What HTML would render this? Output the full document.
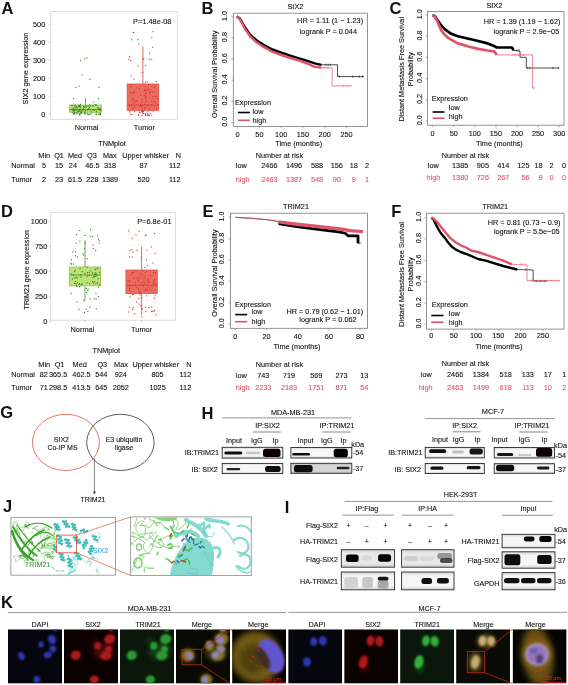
<!DOCTYPE html>
<html><head><meta charset="utf-8"><title>Figure</title>
<style>
html,body{margin:0;padding:0;background:#fff;}
body{width:568px;height:685px;overflow:hidden;}
svg{display:block;font-family:"Liberation Sans",Arial,Helvetica,sans-serif;}
</style></head><body>
<svg width="568" height="685" viewBox="0 0 568 685">
<defs>
<filter id="bl" x="-20%" y="-50%" width="140%" height="200%"><feGaussianBlur stdDeviation="0.5"/></filter>
<filter id="b1" x="-50%" y="-50%" width="200%" height="200%"><feGaussianBlur stdDeviation="0.8"/></filter>
<filter id="b2" x="-50%" y="-50%" width="200%" height="200%"><feGaussianBlur stdDeviation="2.5"/></filter>
<filter id="b3" x="-50%" y="-50%" width="200%" height="200%"><feGaussianBlur stdDeviation="3"/></filter>
<linearGradient id="gb" x1="0" y1="0" x2="0" y2="1"><stop offset="0" stop-color="#d4d4d4"/><stop offset="0.22" stop-color="#f6f6f6"/><stop offset="0.78" stop-color="#f6f6f6"/><stop offset="1" stop-color="#d2d2d2"/></linearGradient>
<linearGradient id="gg" x1="0" y1="0" x2="0" y2="1"><stop offset="0" stop-color="#b8b8b8"/><stop offset="0.25" stop-color="#d6d6d6"/><stop offset="0.75" stop-color="#d6d6d6"/><stop offset="1" stop-color="#b4b4b4"/></linearGradient>
<linearGradient id="gl" x1="0" y1="0" x2="0" y2="1"><stop offset="0" stop-color="#cfcfcf"/><stop offset="0.2" stop-color="#e8e8e8"/><stop offset="0.8" stop-color="#e8e8e8"/><stop offset="1" stop-color="#cccccc"/></linearGradient>
<clipPath id="cj1"><rect x="11" y="518" width="104" height="57"/></clipPath>
<clipPath id="cj2"><rect x="131" y="517.4" width="119.8" height="57.6"/></clipPath>
</defs>
<rect x="0" y="0" width="568" height="685" fill="#fff"/>
<text x="1.5" y="13.8" font-size="16.5" text-anchor="start" fill="#111" font-weight="bold">A</text>
<rect x="50.6" y="11.6" width="126.7" height="107.8" fill="#fff" stroke="#d6d6d6" stroke-width="0.8"/>
<line x1="49.1" y1="114.3" x2="50.6" y2="114.3" stroke="#999" stroke-width="0.6"/>
<text x="45.3" y="116.6" font-size="7.4" text-anchor="end" fill="#111" stroke="#111" stroke-width="0.1">0</text>
<line x1="49.1" y1="96.3" x2="50.6" y2="96.3" stroke="#999" stroke-width="0.6"/>
<text x="45.3" y="98.6" font-size="7.4" text-anchor="end" fill="#111" stroke="#111" stroke-width="0.1">100</text>
<line x1="49.1" y1="78.3" x2="50.6" y2="78.3" stroke="#999" stroke-width="0.6"/>
<text x="45.3" y="80.6" font-size="7.4" text-anchor="end" fill="#111" stroke="#111" stroke-width="0.1">200</text>
<line x1="49.1" y1="60.3" x2="50.6" y2="60.3" stroke="#999" stroke-width="0.6"/>
<text x="45.3" y="62.6" font-size="7.4" text-anchor="end" fill="#111" stroke="#111" stroke-width="0.1">300</text>
<line x1="49.1" y1="42.3" x2="50.6" y2="42.3" stroke="#999" stroke-width="0.6"/>
<text x="45.3" y="44.6" font-size="7.4" text-anchor="end" fill="#111" stroke="#111" stroke-width="0.1">400</text>
<line x1="49.1" y1="24.3" x2="50.6" y2="24.3" stroke="#999" stroke-width="0.6"/>
<text x="45.3" y="26.6" font-size="7.4" text-anchor="end" fill="#111" stroke="#111" stroke-width="0.1">500</text>
<text x="25.8" y="68.5" font-size="7.35" text-anchor="middle" fill="#111" stroke="#111" stroke-width="0.1" transform="rotate(-90 25.8 68.5)" dy="2.6">SIX2 gene expression</text>
<text x="171.5" y="23.9" font-size="7.4" text-anchor="end" fill="#111" stroke="#111" stroke-width="0.1">P=1.48e-08</text>
<line x1="85.5" y1="119.4" x2="85.5" y2="120.9" stroke="#999" stroke-width="0.6"/>
<line x1="85.5" y1="98.0" x2="85.5" y2="114.0" stroke="#4f9a35" stroke-width="0.8"/>
<rect x="69.6" y="105.0" width="31.9" height="7.2" fill="#bfe276" stroke="#7cc043" stroke-width="0.7"/>
<line x1="69.6" y1="109.5" x2="101.5" y2="109.5" stroke="#4f9a35" stroke-width="0.9"/>
<rect x="78.6" y="85.4" width="1.1" height="1.1" fill="#2f7d1f"/>
<rect x="98.8" y="108.8" width="1.1" height="1.1" fill="#2f7d1f"/>
<rect x="81.6" y="74.4" width="1.1" height="1.1" fill="#2f7d1f"/>
<rect x="99.8" y="114.3" width="1.1" height="1.1" fill="#2f7d1f"/>
<rect x="72.2" y="111.8" width="1.1" height="1.1" fill="#2f7d1f"/>
<rect x="87.1" y="109.5" width="1.1" height="1.1" fill="#2f7d1f"/>
<rect x="98.1" y="107.5" width="1.1" height="1.1" fill="#2f7d1f"/>
<rect x="75.7" y="112.5" width="1.1" height="1.1" fill="#2f7d1f"/>
<rect x="78.2" y="105.7" width="1.1" height="1.1" fill="#2f7d1f"/>
<rect x="71.1" y="108.8" width="1.1" height="1.1" fill="#2f7d1f"/>
<rect x="79.4" y="109.2" width="1.1" height="1.1" fill="#2f7d1f"/>
<rect x="79.9" y="103.8" width="1.1" height="1.1" fill="#2f7d1f"/>
<rect x="85.2" y="110.3" width="1.1" height="1.1" fill="#2f7d1f"/>
<rect x="83.9" y="111.7" width="1.1" height="1.1" fill="#2f7d1f"/>
<rect x="93.6" y="109.9" width="1.1" height="1.1" fill="#2f7d1f"/>
<rect x="85.4" y="106.5" width="1.1" height="1.1" fill="#2f7d1f"/>
<rect x="89.9" y="105.3" width="1.1" height="1.1" fill="#2f7d1f"/>
<rect x="78.5" y="105.0" width="1.1" height="1.1" fill="#2f7d1f"/>
<rect x="99.4" y="113.9" width="1.1" height="1.1" fill="#2f7d1f"/>
<rect x="95.7" y="114.1" width="1.1" height="1.1" fill="#2f7d1f"/>
<rect x="82.9" y="108.1" width="1.1" height="1.1" fill="#2f7d1f"/>
<rect x="89.6" y="113.8" width="1.1" height="1.1" fill="#2f7d1f"/>
<rect x="72.7" y="107.9" width="1.1" height="1.1" fill="#2f7d1f"/>
<rect x="78.2" y="110.7" width="1.1" height="1.1" fill="#2f7d1f"/>
<rect x="86.3" y="57.5" width="1.1" height="1.1" fill="#2f7d1f"/>
<rect x="84.2" y="58.4" width="1.1" height="1.1" fill="#2f7d1f"/>
<rect x="87.2" y="113.8" width="1.1" height="1.1" fill="#2f7d1f"/>
<rect x="83.2" y="109.1" width="1.1" height="1.1" fill="#2f7d1f"/>
<rect x="79.2" y="105.1" width="1.1" height="1.1" fill="#2f7d1f"/>
<rect x="99.2" y="112.3" width="1.1" height="1.1" fill="#2f7d1f"/>
<rect x="76.7" y="107.3" width="1.1" height="1.1" fill="#2f7d1f"/>
<rect x="79.3" y="109.3" width="1.1" height="1.1" fill="#2f7d1f"/>
<rect x="75.4" y="110.1" width="1.1" height="1.1" fill="#2f7d1f"/>
<rect x="76.1" y="112.4" width="1.1" height="1.1" fill="#2f7d1f"/>
<rect x="99.5" y="108.4" width="1.1" height="1.1" fill="#2f7d1f"/>
<rect x="95.8" y="113.9" width="1.1" height="1.1" fill="#2f7d1f"/>
<rect x="91.3" y="112.5" width="1.1" height="1.1" fill="#2f7d1f"/>
<rect x="95.6" y="112.3" width="1.1" height="1.1" fill="#2f7d1f"/>
<rect x="88.3" y="114.1" width="1.1" height="1.1" fill="#2f7d1f"/>
<rect x="99.6" y="110.1" width="1.1" height="1.1" fill="#2f7d1f"/>
<rect x="80.1" y="111.4" width="1.1" height="1.1" fill="#2f7d1f"/>
<rect x="77.4" y="111.0" width="1.1" height="1.1" fill="#2f7d1f"/>
<rect x="89.2" y="78.8" width="1.1" height="1.1" fill="#2f7d1f"/>
<rect x="99.9" y="109.2" width="1.1" height="1.1" fill="#2f7d1f"/>
<rect x="71.4" y="105.0" width="1.1" height="1.1" fill="#2f7d1f"/>
<rect x="80.1" y="106.4" width="1.1" height="1.1" fill="#2f7d1f"/>
<rect x="89.6" y="113.4" width="1.1" height="1.1" fill="#2f7d1f"/>
<rect x="79.3" y="114.4" width="1.1" height="1.1" fill="#2f7d1f"/>
<rect x="80.1" y="60.2" width="1.1" height="1.1" fill="#2f7d1f"/>
<rect x="98.4" y="86.7" width="1.1" height="1.1" fill="#2f7d1f"/>
<rect x="83.5" y="106.2" width="1.1" height="1.1" fill="#2f7d1f"/>
<rect x="92.7" y="109.0" width="1.1" height="1.1" fill="#2f7d1f"/>
<rect x="79.2" y="113.3" width="1.1" height="1.1" fill="#2f7d1f"/>
<rect x="92.6" y="105.5" width="1.1" height="1.1" fill="#2f7d1f"/>
<rect x="73.0" y="98.1" width="1.1" height="1.1" fill="#2f7d1f"/>
<rect x="75.3" y="107.0" width="1.1" height="1.1" fill="#2f7d1f"/>
<rect x="74.3" y="106.3" width="1.1" height="1.1" fill="#2f7d1f"/>
<rect x="93.9" y="109.5" width="1.1" height="1.1" fill="#2f7d1f"/>
<rect x="73.6" y="110.3" width="1.1" height="1.1" fill="#2f7d1f"/>
<rect x="82.4" y="110.1" width="1.1" height="1.1" fill="#2f7d1f"/>
<rect x="77.3" y="112.7" width="1.1" height="1.1" fill="#2f7d1f"/>
<rect x="92.3" y="105.3" width="1.1" height="1.1" fill="#2f7d1f"/>
<rect x="90.3" y="110.6" width="1.1" height="1.1" fill="#2f7d1f"/>
<rect x="73.8" y="112.8" width="1.1" height="1.1" fill="#2f7d1f"/>
<rect x="97.7" y="109.1" width="1.1" height="1.1" fill="#2f7d1f"/>
<rect x="97.8" y="113.6" width="1.1" height="1.1" fill="#2f7d1f"/>
<rect x="99.5" y="108.7" width="1.1" height="1.1" fill="#2f7d1f"/>
<rect x="72.5" y="105.3" width="1.1" height="1.1" fill="#2f7d1f"/>
<rect x="84.3" y="112.5" width="1.1" height="1.1" fill="#2f7d1f"/>
<rect x="95.4" y="104.5" width="1.1" height="1.1" fill="#2f7d1f"/>
<rect x="89.0" y="104.5" width="1.1" height="1.1" fill="#2f7d1f"/>
<rect x="79.2" y="113.4" width="1.1" height="1.1" fill="#2f7d1f"/>
<rect x="96.9" y="107.2" width="1.1" height="1.1" fill="#2f7d1f"/>
<rect x="73.6" y="113.2" width="1.1" height="1.1" fill="#2f7d1f"/>
<rect x="75.6" y="86.9" width="1.1" height="1.1" fill="#2f7d1f"/>
<rect x="81.1" y="110.6" width="1.1" height="1.1" fill="#2f7d1f"/>
<rect x="79.2" y="105.8" width="1.1" height="1.1" fill="#2f7d1f"/>
<rect x="85.3" y="105.4" width="1.1" height="1.1" fill="#2f7d1f"/>
<rect x="72.9" y="113.3" width="1.1" height="1.1" fill="#2f7d1f"/>
<rect x="74.3" y="113.6" width="1.1" height="1.1" fill="#2f7d1f"/>
<rect x="78.5" y="105.4" width="1.1" height="1.1" fill="#2f7d1f"/>
<rect x="79.1" y="110.4" width="1.1" height="1.1" fill="#2f7d1f"/>
<rect x="79.5" y="107.4" width="1.1" height="1.1" fill="#2f7d1f"/>
<rect x="81.0" y="112.8" width="1.1" height="1.1" fill="#2f7d1f"/>
<rect x="77.5" y="109.6" width="1.1" height="1.1" fill="#2f7d1f"/>
<rect x="84.1" y="106.4" width="1.1" height="1.1" fill="#2f7d1f"/>
<rect x="93.2" y="101.7" width="1.1" height="1.1" fill="#2f7d1f"/>
<rect x="74.6" y="104.4" width="1.1" height="1.1" fill="#2f7d1f"/>
<rect x="72.8" y="108.6" width="1.1" height="1.1" fill="#2f7d1f"/>
<rect x="79.2" y="105.8" width="1.1" height="1.1" fill="#2f7d1f"/>
<rect x="73.2" y="110.2" width="1.1" height="1.1" fill="#2f7d1f"/>
<rect x="84.4" y="113.5" width="1.1" height="1.1" fill="#2f7d1f"/>
<rect x="88.3" y="108.5" width="1.1" height="1.1" fill="#2f7d1f"/>
<rect x="87.5" y="105.8" width="1.1" height="1.1" fill="#2f7d1f"/>
<rect x="74.1" y="111.8" width="1.1" height="1.1" fill="#2f7d1f"/>
<rect x="94.7" y="104.3" width="1.1" height="1.1" fill="#2f7d1f"/>
<rect x="98.0" y="98.0" width="1.1" height="1.1" fill="#2f7d1f"/>
<rect x="80.3" y="112.1" width="1.1" height="1.1" fill="#2f7d1f"/>
<rect x="72.2" y="109.6" width="1.1" height="1.1" fill="#2f7d1f"/>
<rect x="80.6" y="112.8" width="1.1" height="1.1" fill="#2f7d1f"/>
<rect x="75.6" y="106.0" width="1.1" height="1.1" fill="#2f7d1f"/>
<rect x="89.0" y="106.9" width="1.1" height="1.1" fill="#2f7d1f"/>
<rect x="76.8" y="107.1" width="1.1" height="1.1" fill="#2f7d1f"/>
<rect x="74.2" y="108.6" width="1.1" height="1.1" fill="#2f7d1f"/>
<rect x="87.1" y="112.8" width="1.1" height="1.1" fill="#2f7d1f"/>
<rect x="83.0" y="106.0" width="1.1" height="1.1" fill="#2f7d1f"/>
<rect x="95.7" y="104.4" width="1.1" height="1.1" fill="#2f7d1f"/>
<rect x="95.9" y="110.8" width="1.1" height="1.1" fill="#2f7d1f"/>
<rect x="99.9" y="113.1" width="1.1" height="1.1" fill="#2f7d1f"/>
<rect x="87.8" y="108.5" width="1.1" height="1.1" fill="#2f7d1f"/>
<line x1="142.9" y1="119.4" x2="142.9" y2="120.9" stroke="#999" stroke-width="0.6"/>
<line x1="142.9" y1="46.2" x2="142.9" y2="114.0" stroke="#d8463c" stroke-width="0.8"/>
<rect x="127.1" y="84.0" width="31.7" height="26.4" fill="#ea6b60" stroke="#dd4b40" stroke-width="0.7"/>
<line x1="127.1" y1="105.0" x2="158.8" y2="105.0" stroke="#d8463c" stroke-width="0.9"/>
<rect x="133.7" y="102.4" width="1.1" height="1.1" fill="#e02b22"/>
<rect x="134.2" y="111.1" width="1.1" height="1.1" fill="#e02b22"/>
<rect x="132.4" y="93.0" width="1.1" height="1.1" fill="#e02b22"/>
<rect x="149.1" y="114.8" width="1.1" height="1.1" fill="#e02b22"/>
<rect x="148.5" y="107.9" width="1.1" height="1.1" fill="#e02b22"/>
<rect x="144.0" y="89.9" width="1.1" height="1.1" fill="#e02b22"/>
<rect x="153.8" y="100.9" width="1.1" height="1.1" fill="#e02b22"/>
<rect x="138.9" y="87.9" width="1.1" height="1.1" fill="#e02b22"/>
<rect x="135.6" y="87.5" width="1.1" height="1.1" fill="#e02b22"/>
<rect x="157.0" y="97.9" width="1.1" height="1.1" fill="#e02b22"/>
<rect x="149.0" y="52.6" width="1.1" height="1.1" fill="#e02b22"/>
<rect x="152.4" y="31.1" width="1.1" height="1.1" fill="#e02b22"/>
<rect x="151.1" y="58.7" width="1.1" height="1.1" fill="#e02b22"/>
<rect x="128.3" y="58.8" width="1.1" height="1.1" fill="#e02b22"/>
<rect x="135.1" y="100.7" width="1.1" height="1.1" fill="#e02b22"/>
<rect x="145.2" y="97.7" width="1.1" height="1.1" fill="#e02b22"/>
<rect x="134.0" y="106.5" width="1.1" height="1.1" fill="#e02b22"/>
<rect x="129.2" y="111.6" width="1.1" height="1.1" fill="#e02b22"/>
<rect x="132.8" y="107.8" width="1.1" height="1.1" fill="#e02b22"/>
<rect x="138.3" y="43.3" width="1.1" height="1.1" fill="#e02b22"/>
<rect x="150.2" y="91.1" width="1.1" height="1.1" fill="#e02b22"/>
<rect x="145.9" y="90.1" width="1.1" height="1.1" fill="#e02b22"/>
<rect x="151.2" y="37.2" width="1.1" height="1.1" fill="#e02b22"/>
<rect x="141.8" y="111.3" width="1.1" height="1.1" fill="#e02b22"/>
<rect x="139.4" y="106.1" width="1.1" height="1.1" fill="#e02b22"/>
<rect x="149.0" y="92.1" width="1.1" height="1.1" fill="#e02b22"/>
<rect x="149.8" y="112.8" width="1.1" height="1.1" fill="#e02b22"/>
<rect x="152.8" y="95.9" width="1.1" height="1.1" fill="#e02b22"/>
<rect x="141.1" y="105.6" width="1.1" height="1.1" fill="#e02b22"/>
<rect x="132.9" y="91.7" width="1.1" height="1.1" fill="#e02b22"/>
<rect x="143.7" y="95.0" width="1.1" height="1.1" fill="#e02b22"/>
<rect x="144.9" y="64.8" width="1.1" height="1.1" fill="#e02b22"/>
<rect x="148.0" y="83.9" width="1.1" height="1.1" fill="#e02b22"/>
<rect x="144.2" y="108.8" width="1.1" height="1.1" fill="#e02b22"/>
<rect x="144.8" y="93.2" width="1.1" height="1.1" fill="#e02b22"/>
<rect x="142.8" y="111.1" width="1.1" height="1.1" fill="#e02b22"/>
<rect x="139.5" y="111.9" width="1.1" height="1.1" fill="#e02b22"/>
<rect x="145.5" y="101.0" width="1.1" height="1.1" fill="#e02b22"/>
<rect x="132.7" y="31.9" width="1.1" height="1.1" fill="#e02b22"/>
<rect x="152.4" y="91.2" width="1.1" height="1.1" fill="#e02b22"/>
<rect x="147.6" y="114.8" width="1.1" height="1.1" fill="#e02b22"/>
<rect x="130.2" y="92.5" width="1.1" height="1.1" fill="#e02b22"/>
<rect x="142.5" y="111.1" width="1.1" height="1.1" fill="#e02b22"/>
<rect x="144.5" y="89.1" width="1.1" height="1.1" fill="#e02b22"/>
<rect x="144.9" y="81.7" width="1.1" height="1.1" fill="#e02b22"/>
<rect x="131.3" y="114.1" width="1.1" height="1.1" fill="#e02b22"/>
<rect x="141.4" y="101.3" width="1.1" height="1.1" fill="#e02b22"/>
<rect x="133.2" y="31.9" width="1.1" height="1.1" fill="#e02b22"/>
<rect x="141.5" y="110.6" width="1.1" height="1.1" fill="#e02b22"/>
<rect x="145.1" y="114.9" width="1.1" height="1.1" fill="#e02b22"/>
<rect x="138.0" y="114.4" width="1.1" height="1.1" fill="#e02b22"/>
<rect x="132.2" y="97.9" width="1.1" height="1.1" fill="#e02b22"/>
<rect x="151.3" y="100.6" width="1.1" height="1.1" fill="#e02b22"/>
<rect x="134.1" y="91.3" width="1.1" height="1.1" fill="#e02b22"/>
<rect x="155.8" y="81.0" width="1.1" height="1.1" fill="#e02b22"/>
<rect x="141.4" y="114.9" width="1.1" height="1.1" fill="#e02b22"/>
<rect x="130.2" y="86.8" width="1.1" height="1.1" fill="#e02b22"/>
<rect x="142.2" y="59.2" width="1.1" height="1.1" fill="#e02b22"/>
<rect x="145.0" y="114.3" width="1.1" height="1.1" fill="#e02b22"/>
<rect x="132.7" y="99.8" width="1.1" height="1.1" fill="#e02b22"/>
<rect x="144.7" y="106.9" width="1.1" height="1.1" fill="#e02b22"/>
<rect x="147.1" y="113.0" width="1.1" height="1.1" fill="#e02b22"/>
<rect x="153.6" y="85.3" width="1.1" height="1.1" fill="#e02b22"/>
<rect x="141.2" y="110.6" width="1.1" height="1.1" fill="#e02b22"/>
<rect x="141.6" y="72.1" width="1.1" height="1.1" fill="#e02b22"/>
<rect x="147.7" y="89.2" width="1.1" height="1.1" fill="#e02b22"/>
<rect x="153.6" y="87.1" width="1.1" height="1.1" fill="#e02b22"/>
<rect x="129.9" y="60.0" width="1.1" height="1.1" fill="#e02b22"/>
<rect x="145.1" y="112.9" width="1.1" height="1.1" fill="#e02b22"/>
<rect x="139.6" y="104.2" width="1.1" height="1.1" fill="#e02b22"/>
<rect x="131.1" y="39.1" width="1.1" height="1.1" fill="#e02b22"/>
<rect x="140.2" y="94.6" width="1.1" height="1.1" fill="#e02b22"/>
<rect x="136.7" y="100.4" width="1.1" height="1.1" fill="#e02b22"/>
<rect x="155.2" y="102.2" width="1.1" height="1.1" fill="#e02b22"/>
<rect x="138.9" y="111.6" width="1.1" height="1.1" fill="#e02b22"/>
<rect x="147.3" y="111.3" width="1.1" height="1.1" fill="#e02b22"/>
<rect x="152.2" y="46.8" width="1.1" height="1.1" fill="#e02b22"/>
<rect x="141.8" y="108.6" width="1.1" height="1.1" fill="#e02b22"/>
<rect x="137.1" y="39.2" width="1.1" height="1.1" fill="#e02b22"/>
<rect x="138.0" y="114.5" width="1.1" height="1.1" fill="#e02b22"/>
<rect x="146.6" y="81.3" width="1.1" height="1.1" fill="#e02b22"/>
<rect x="151.2" y="114.6" width="1.1" height="1.1" fill="#e02b22"/>
<rect x="130.3" y="84.2" width="1.1" height="1.1" fill="#e02b22"/>
<rect x="148.7" y="58.6" width="1.1" height="1.1" fill="#e02b22"/>
<rect x="130.2" y="113.9" width="1.1" height="1.1" fill="#e02b22"/>
<rect x="129.5" y="110.4" width="1.1" height="1.1" fill="#e02b22"/>
<rect x="129.0" y="105.2" width="1.1" height="1.1" fill="#e02b22"/>
<rect x="131.1" y="104.7" width="1.1" height="1.1" fill="#e02b22"/>
<rect x="147.8" y="104.5" width="1.1" height="1.1" fill="#e02b22"/>
<rect x="143.8" y="90.4" width="1.1" height="1.1" fill="#e02b22"/>
<rect x="145.8" y="93.0" width="1.1" height="1.1" fill="#e02b22"/>
<rect x="143.2" y="58.0" width="1.1" height="1.1" fill="#e02b22"/>
<rect x="151.0" y="104.3" width="1.1" height="1.1" fill="#e02b22"/>
<rect x="141.8" y="104.9" width="1.1" height="1.1" fill="#e02b22"/>
<rect x="130.7" y="75.6" width="1.1" height="1.1" fill="#e02b22"/>
<rect x="143.0" y="113.0" width="1.1" height="1.1" fill="#e02b22"/>
<rect x="141.4" y="99.2" width="1.1" height="1.1" fill="#e02b22"/>
<rect x="157.0" y="104.3" width="1.1" height="1.1" fill="#e02b22"/>
<rect x="129.6" y="91.8" width="1.1" height="1.1" fill="#e02b22"/>
<rect x="155.4" y="95.9" width="1.1" height="1.1" fill="#e02b22"/>
<rect x="129.1" y="56.1" width="1.1" height="1.1" fill="#e02b22"/>
<rect x="133.4" y="78.6" width="1.1" height="1.1" fill="#e02b22"/>
<rect x="147.2" y="114.5" width="1.1" height="1.1" fill="#e02b22"/>
<rect x="156.0" y="108.0" width="1.1" height="1.1" fill="#e02b22"/>
<rect x="148.2" y="114.5" width="1.1" height="1.1" fill="#e02b22"/>
<rect x="144.9" y="96.2" width="1.1" height="1.1" fill="#e02b22"/>
<rect x="144.1" y="103.8" width="1.1" height="1.1" fill="#e02b22"/>
<rect x="152.5" y="110.4" width="1.1" height="1.1" fill="#e02b22"/>
<rect x="149.3" y="109.6" width="1.1" height="1.1" fill="#e02b22"/>
<rect x="137.5" y="65.4" width="1.1" height="1.1" fill="#e02b22"/>
<text x="86.6" y="129.8" font-size="7.4" text-anchor="middle" fill="#111" stroke="#111" stroke-width="0.1">Normal</text>
<text x="144.4" y="129.8" font-size="7.4" text-anchor="middle" fill="#111" stroke="#111" stroke-width="0.1">Tumor</text>
<text x="112.0" y="146.3" font-size="7.3" text-anchor="middle" fill="#111" stroke="#111" stroke-width="0.1">TNMplot</text>
<text x="44.2" y="157.6" font-size="7.3" text-anchor="middle" fill="#111" stroke="#111" stroke-width="0.1">Min</text>
<text x="59.0" y="157.6" font-size="7.3" text-anchor="middle" fill="#111" stroke="#111" stroke-width="0.1">Q1</text>
<text x="75.1" y="157.6" font-size="7.3" text-anchor="middle" fill="#111" stroke="#111" stroke-width="0.1">Med</text>
<text x="91.9" y="157.6" font-size="7.3" text-anchor="middle" fill="#111" stroke="#111" stroke-width="0.1">Q3</text>
<text x="109.8" y="157.6" font-size="7.3" text-anchor="middle" fill="#111" stroke="#111" stroke-width="0.1">Max</text>
<text x="145.6" y="157.6" font-size="7.3" text-anchor="middle" fill="#111" stroke="#111" stroke-width="0.1">Upper whisker</text>
<text x="178.3" y="157.6" font-size="7.3" text-anchor="middle" fill="#111" stroke="#111" stroke-width="0.1">N</text>
<text x="11.3" y="168.1" font-size="7.3" text-anchor="start" fill="#111" stroke="#111" stroke-width="0.1">Normal</text>
<text x="44.0" y="168.1" font-size="7.3" text-anchor="middle" fill="#111" stroke="#111" stroke-width="0.1">5</text>
<text x="59.0" y="168.1" font-size="7.3" text-anchor="middle" fill="#111" stroke="#111" stroke-width="0.1">15</text>
<text x="72.9" y="168.1" font-size="7.3" text-anchor="middle" fill="#111" stroke="#111" stroke-width="0.1">24</text>
<text x="92.4" y="168.1" font-size="7.3" text-anchor="middle" fill="#111" stroke="#111" stroke-width="0.1">46.5</text>
<text x="110.0" y="168.1" font-size="7.3" text-anchor="middle" fill="#111" stroke="#111" stroke-width="0.1">318</text>
<text x="143.5" y="168.1" font-size="7.3" text-anchor="middle" fill="#111" stroke="#111" stroke-width="0.1">87</text>
<text x="174.8" y="168.1" font-size="7.3" text-anchor="middle" fill="#111" stroke="#111" stroke-width="0.1">112</text>
<text x="11.3" y="181.5" font-size="7.3" text-anchor="start" fill="#111" stroke="#111" stroke-width="0.1">Tumor</text>
<text x="44.0" y="181.5" font-size="7.3" text-anchor="middle" fill="#111" stroke="#111" stroke-width="0.1">2</text>
<text x="59.0" y="181.5" font-size="7.3" text-anchor="middle" fill="#111" stroke="#111" stroke-width="0.1">23</text>
<text x="75.0" y="181.5" font-size="7.3" text-anchor="middle" fill="#111" stroke="#111" stroke-width="0.1">61.5</text>
<text x="92.4" y="181.5" font-size="7.3" text-anchor="middle" fill="#111" stroke="#111" stroke-width="0.1">228</text>
<text x="110.0" y="181.5" font-size="7.3" text-anchor="middle" fill="#111" stroke="#111" stroke-width="0.1">1389</text>
<text x="143.5" y="181.5" font-size="7.3" text-anchor="middle" fill="#111" stroke="#111" stroke-width="0.1">520</text>
<text x="174.8" y="181.5" font-size="7.3" text-anchor="middle" fill="#111" stroke="#111" stroke-width="0.1">112</text>
<text x="1.0" y="217.1" font-size="16.5" text-anchor="start" fill="#111" font-weight="bold">D</text>
<rect x="50.7" y="212.5" width="124.9" height="107.7" fill="#fff" stroke="#d6d6d6" stroke-width="0.8"/>
<line x1="49.2" y1="321.4" x2="50.7" y2="321.4" stroke="#999" stroke-width="0.6"/>
<text x="47.3" y="324.1" font-size="7.4" text-anchor="end" fill="#111" stroke="#111" stroke-width="0.1">0</text>
<line x1="49.2" y1="296.4" x2="50.7" y2="296.4" stroke="#999" stroke-width="0.6"/>
<text x="47.3" y="299.1" font-size="7.4" text-anchor="end" fill="#111" stroke="#111" stroke-width="0.1">250</text>
<line x1="49.2" y1="271.4" x2="50.7" y2="271.4" stroke="#999" stroke-width="0.6"/>
<text x="47.3" y="274.1" font-size="7.4" text-anchor="end" fill="#111" stroke="#111" stroke-width="0.1">500</text>
<line x1="49.2" y1="246.4" x2="50.7" y2="246.4" stroke="#999" stroke-width="0.6"/>
<text x="47.3" y="249.1" font-size="7.4" text-anchor="end" fill="#111" stroke="#111" stroke-width="0.1">750</text>
<line x1="49.2" y1="221.4" x2="50.7" y2="221.4" stroke="#999" stroke-width="0.6"/>
<text x="47.3" y="224.1" font-size="7.4" text-anchor="end" fill="#111" stroke="#111" stroke-width="0.1">1000</text>
<text x="26.0" y="269.75" font-size="7.1" text-anchor="middle" fill="#111" stroke="#111" stroke-width="0.1" transform="rotate(-90 26.0 269.75)" dy="2.6">TRIM21 gene expression</text>
<text x="171.5" y="224.4" font-size="7.4" text-anchor="end" fill="#111" stroke="#111" stroke-width="0.1">P=6.8e-01</text>
<line x1="85.0" y1="320.2" x2="85.0" y2="321.7" stroke="#999" stroke-width="0.6"/>
<line x1="85.0" y1="240.0" x2="85.0" y2="300.0" stroke="#4f9a35" stroke-width="0.8"/>
<rect x="69.2" y="267.0" width="31.5" height="18.8" fill="#bfe276" stroke="#7cc043" stroke-width="0.7"/>
<line x1="69.2" y1="275.0" x2="100.7" y2="275.0" stroke="#4f9a35" stroke-width="0.9"/>
<rect x="82.4" y="253.3" width="1.1" height="1.1" fill="#2f7d1f"/>
<rect x="87.3" y="310.9" width="1.1" height="1.1" fill="#2f7d1f"/>
<rect x="89.7" y="298.4" width="1.1" height="1.1" fill="#2f7d1f"/>
<rect x="83.9" y="311.9" width="1.1" height="1.1" fill="#2f7d1f"/>
<rect x="86.8" y="266.7" width="1.1" height="1.1" fill="#2f7d1f"/>
<rect x="95.2" y="249.8" width="1.1" height="1.1" fill="#2f7d1f"/>
<rect x="75.0" y="251.2" width="1.1" height="1.1" fill="#2f7d1f"/>
<rect x="74.7" y="281.0" width="1.1" height="1.1" fill="#2f7d1f"/>
<rect x="92.8" y="247.8" width="1.1" height="1.1" fill="#2f7d1f"/>
<rect x="97.8" y="286.6" width="1.1" height="1.1" fill="#2f7d1f"/>
<rect x="80.7" y="284.1" width="1.1" height="1.1" fill="#2f7d1f"/>
<rect x="90.2" y="270.4" width="1.1" height="1.1" fill="#2f7d1f"/>
<rect x="76.8" y="256.6" width="1.1" height="1.1" fill="#2f7d1f"/>
<rect x="70.4" y="262.9" width="1.1" height="1.1" fill="#2f7d1f"/>
<rect x="78.5" y="308.8" width="1.1" height="1.1" fill="#2f7d1f"/>
<rect x="95.6" y="298.4" width="1.1" height="1.1" fill="#2f7d1f"/>
<rect x="71.8" y="278.4" width="1.1" height="1.1" fill="#2f7d1f"/>
<rect x="97.2" y="268.4" width="1.1" height="1.1" fill="#2f7d1f"/>
<rect x="97.9" y="238.6" width="1.1" height="1.1" fill="#2f7d1f"/>
<rect x="84.4" y="273.0" width="1.1" height="1.1" fill="#2f7d1f"/>
<rect x="74.2" y="277.6" width="1.1" height="1.1" fill="#2f7d1f"/>
<rect x="98.1" y="296.1" width="1.1" height="1.1" fill="#2f7d1f"/>
<rect x="76.4" y="285.9" width="1.1" height="1.1" fill="#2f7d1f"/>
<rect x="72.3" y="251.4" width="1.1" height="1.1" fill="#2f7d1f"/>
<rect x="98.7" y="240.2" width="1.1" height="1.1" fill="#2f7d1f"/>
<rect x="95.8" y="308.2" width="1.1" height="1.1" fill="#2f7d1f"/>
<rect x="84.9" y="242.7" width="1.1" height="1.1" fill="#2f7d1f"/>
<rect x="70.9" y="259.2" width="1.1" height="1.1" fill="#2f7d1f"/>
<rect x="93.1" y="282.7" width="1.1" height="1.1" fill="#2f7d1f"/>
<rect x="76.7" y="277.3" width="1.1" height="1.1" fill="#2f7d1f"/>
<rect x="79.3" y="240.7" width="1.1" height="1.1" fill="#2f7d1f"/>
<rect x="99.0" y="284.4" width="1.1" height="1.1" fill="#2f7d1f"/>
<rect x="87.5" y="288.6" width="1.1" height="1.1" fill="#2f7d1f"/>
<rect x="83.3" y="300.4" width="1.1" height="1.1" fill="#2f7d1f"/>
<rect x="75.6" y="242.7" width="1.1" height="1.1" fill="#2f7d1f"/>
<rect x="94.8" y="268.7" width="1.1" height="1.1" fill="#2f7d1f"/>
<rect x="79.1" y="283.3" width="1.1" height="1.1" fill="#2f7d1f"/>
<rect x="93.7" y="298.2" width="1.1" height="1.1" fill="#2f7d1f"/>
<rect x="79.4" y="268.3" width="1.1" height="1.1" fill="#2f7d1f"/>
<rect x="94.0" y="281.1" width="1.1" height="1.1" fill="#2f7d1f"/>
<rect x="80.0" y="274.2" width="1.1" height="1.1" fill="#2f7d1f"/>
<rect x="79.3" y="286.2" width="1.1" height="1.1" fill="#2f7d1f"/>
<rect x="80.4" y="276.6" width="1.1" height="1.1" fill="#2f7d1f"/>
<rect x="70.5" y="292.9" width="1.1" height="1.1" fill="#2f7d1f"/>
<rect x="88.7" y="271.9" width="1.1" height="1.1" fill="#2f7d1f"/>
<rect x="78.5" y="283.6" width="1.1" height="1.1" fill="#2f7d1f"/>
<rect x="75.7" y="285.1" width="1.1" height="1.1" fill="#2f7d1f"/>
<rect x="76.3" y="301.5" width="1.1" height="1.1" fill="#2f7d1f"/>
<rect x="95.6" y="275.7" width="1.1" height="1.1" fill="#2f7d1f"/>
<rect x="93.1" y="275.6" width="1.1" height="1.1" fill="#2f7d1f"/>
<rect x="73.1" y="263.4" width="1.1" height="1.1" fill="#2f7d1f"/>
<rect x="95.5" y="283.0" width="1.1" height="1.1" fill="#2f7d1f"/>
<rect x="89.5" y="235.7" width="1.1" height="1.1" fill="#2f7d1f"/>
<rect x="93.9" y="276.2" width="1.1" height="1.1" fill="#2f7d1f"/>
<rect x="94.5" y="269.1" width="1.1" height="1.1" fill="#2f7d1f"/>
<rect x="78.9" y="286.1" width="1.1" height="1.1" fill="#2f7d1f"/>
<rect x="97.7" y="278.3" width="1.1" height="1.1" fill="#2f7d1f"/>
<rect x="77.0" y="282.2" width="1.1" height="1.1" fill="#2f7d1f"/>
<rect x="94.6" y="273.7" width="1.1" height="1.1" fill="#2f7d1f"/>
<rect x="76.0" y="234.1" width="1.1" height="1.1" fill="#2f7d1f"/>
<rect x="95.2" y="272.2" width="1.1" height="1.1" fill="#2f7d1f"/>
<rect x="87.3" y="290.1" width="1.1" height="1.1" fill="#2f7d1f"/>
<rect x="91.9" y="272.6" width="1.1" height="1.1" fill="#2f7d1f"/>
<rect x="86.8" y="275.7" width="1.1" height="1.1" fill="#2f7d1f"/>
<rect x="74.0" y="270.9" width="1.1" height="1.1" fill="#2f7d1f"/>
<rect x="91.8" y="236.2" width="1.1" height="1.1" fill="#2f7d1f"/>
<rect x="86.0" y="292.2" width="1.1" height="1.1" fill="#2f7d1f"/>
<rect x="92.5" y="244.4" width="1.1" height="1.1" fill="#2f7d1f"/>
<rect x="84.0" y="248.3" width="1.1" height="1.1" fill="#2f7d1f"/>
<rect x="83.2" y="254.7" width="1.1" height="1.1" fill="#2f7d1f"/>
<rect x="97.1" y="235.6" width="1.1" height="1.1" fill="#2f7d1f"/>
<rect x="89.5" y="306.4" width="1.1" height="1.1" fill="#2f7d1f"/>
<rect x="70.8" y="263.6" width="1.1" height="1.1" fill="#2f7d1f"/>
<rect x="74.8" y="255.2" width="1.1" height="1.1" fill="#2f7d1f"/>
<rect x="90.0" y="229.2" width="1.1" height="1.1" fill="#2f7d1f"/>
<rect x="96.8" y="267.6" width="1.1" height="1.1" fill="#2f7d1f"/>
<rect x="81.9" y="283.2" width="1.1" height="1.1" fill="#2f7d1f"/>
<rect x="75.6" y="283.2" width="1.1" height="1.1" fill="#2f7d1f"/>
<rect x="81.6" y="271.0" width="1.1" height="1.1" fill="#2f7d1f"/>
<rect x="79.2" y="230.0" width="1.1" height="1.1" fill="#2f7d1f"/>
<rect x="95.4" y="292.9" width="1.1" height="1.1" fill="#2f7d1f"/>
<rect x="85.7" y="287.9" width="1.1" height="1.1" fill="#2f7d1f"/>
<rect x="83.3" y="299.4" width="1.1" height="1.1" fill="#2f7d1f"/>
<rect x="99.0" y="271.8" width="1.1" height="1.1" fill="#2f7d1f"/>
<rect x="85.6" y="308.9" width="1.1" height="1.1" fill="#2f7d1f"/>
<rect x="86.6" y="282.1" width="1.1" height="1.1" fill="#2f7d1f"/>
<rect x="96.2" y="273.6" width="1.1" height="1.1" fill="#2f7d1f"/>
<rect x="75.5" y="276.6" width="1.1" height="1.1" fill="#2f7d1f"/>
<rect x="97.2" y="282.3" width="1.1" height="1.1" fill="#2f7d1f"/>
<rect x="74.1" y="282.9" width="1.1" height="1.1" fill="#2f7d1f"/>
<rect x="94.2" y="273.6" width="1.1" height="1.1" fill="#2f7d1f"/>
<rect x="86.6" y="258.2" width="1.1" height="1.1" fill="#2f7d1f"/>
<rect x="72.9" y="274.6" width="1.1" height="1.1" fill="#2f7d1f"/>
<rect x="89.3" y="283.0" width="1.1" height="1.1" fill="#2f7d1f"/>
<rect x="92.1" y="272.4" width="1.1" height="1.1" fill="#2f7d1f"/>
<rect x="88.7" y="274.7" width="1.1" height="1.1" fill="#2f7d1f"/>
<rect x="94.6" y="275.7" width="1.1" height="1.1" fill="#2f7d1f"/>
<rect x="84.5" y="234.9" width="1.1" height="1.1" fill="#2f7d1f"/>
<rect x="91.9" y="281.2" width="1.1" height="1.1" fill="#2f7d1f"/>
<rect x="98.5" y="242.5" width="1.1" height="1.1" fill="#2f7d1f"/>
<rect x="71.1" y="273.4" width="1.1" height="1.1" fill="#2f7d1f"/>
<rect x="87.0" y="272.1" width="1.1" height="1.1" fill="#2f7d1f"/>
<rect x="92.4" y="277.3" width="1.1" height="1.1" fill="#2f7d1f"/>
<rect x="95.4" y="273.6" width="1.1" height="1.1" fill="#2f7d1f"/>
<rect x="74.7" y="269.4" width="1.1" height="1.1" fill="#2f7d1f"/>
<line x1="141.6" y1="320.2" x2="141.6" y2="321.7" stroke="#999" stroke-width="0.6"/>
<line x1="141.6" y1="246.5" x2="141.6" y2="315.1" stroke="#d8463c" stroke-width="0.8"/>
<rect x="125.9" y="270.0" width="31.4" height="23.4" fill="#ea6b60" stroke="#dd4b40" stroke-width="0.7"/>
<line x1="125.9" y1="285.4" x2="157.3" y2="285.4" stroke="#d8463c" stroke-width="0.9"/>
<rect x="138.6" y="230.8" width="1.1" height="1.1" fill="#e02b22"/>
<rect x="128.0" y="230.3" width="1.1" height="1.1" fill="#e02b22"/>
<rect x="135.1" y="281.7" width="1.1" height="1.1" fill="#e02b22"/>
<rect x="129.1" y="289.2" width="1.1" height="1.1" fill="#e02b22"/>
<rect x="145.9" y="259.1" width="1.1" height="1.1" fill="#e02b22"/>
<rect x="138.7" y="277.9" width="1.1" height="1.1" fill="#e02b22"/>
<rect x="146.8" y="289.1" width="1.1" height="1.1" fill="#e02b22"/>
<rect x="154.4" y="252.7" width="1.1" height="1.1" fill="#e02b22"/>
<rect x="141.6" y="316.6" width="1.1" height="1.1" fill="#e02b22"/>
<rect x="139.4" y="291.6" width="1.1" height="1.1" fill="#e02b22"/>
<rect x="140.3" y="282.2" width="1.1" height="1.1" fill="#e02b22"/>
<rect x="152.3" y="262.5" width="1.1" height="1.1" fill="#e02b22"/>
<rect x="147.1" y="265.1" width="1.1" height="1.1" fill="#e02b22"/>
<rect x="145.7" y="234.4" width="1.1" height="1.1" fill="#e02b22"/>
<rect x="148.6" y="280.8" width="1.1" height="1.1" fill="#e02b22"/>
<rect x="153.9" y="297.7" width="1.1" height="1.1" fill="#e02b22"/>
<rect x="140.1" y="292.5" width="1.1" height="1.1" fill="#e02b22"/>
<rect x="135.1" y="270.3" width="1.1" height="1.1" fill="#e02b22"/>
<rect x="153.3" y="282.8" width="1.1" height="1.1" fill="#e02b22"/>
<rect x="153.7" y="310.0" width="1.1" height="1.1" fill="#e02b22"/>
<rect x="137.9" y="280.5" width="1.1" height="1.1" fill="#e02b22"/>
<rect x="150.0" y="275.1" width="1.1" height="1.1" fill="#e02b22"/>
<rect x="153.5" y="310.5" width="1.1" height="1.1" fill="#e02b22"/>
<rect x="149.3" y="289.6" width="1.1" height="1.1" fill="#e02b22"/>
<rect x="140.2" y="305.5" width="1.1" height="1.1" fill="#e02b22"/>
<rect x="154.1" y="278.7" width="1.1" height="1.1" fill="#e02b22"/>
<rect x="129.8" y="280.3" width="1.1" height="1.1" fill="#e02b22"/>
<rect x="151.2" y="306.4" width="1.1" height="1.1" fill="#e02b22"/>
<rect x="135.5" y="234.5" width="1.1" height="1.1" fill="#e02b22"/>
<rect x="155.6" y="283.6" width="1.1" height="1.1" fill="#e02b22"/>
<rect x="134.9" y="284.4" width="1.1" height="1.1" fill="#e02b22"/>
<rect x="151.2" y="311.1" width="1.1" height="1.1" fill="#e02b22"/>
<rect x="138.5" y="303.5" width="1.1" height="1.1" fill="#e02b22"/>
<rect x="129.3" y="296.2" width="1.1" height="1.1" fill="#e02b22"/>
<rect x="137.9" y="288.7" width="1.1" height="1.1" fill="#e02b22"/>
<rect x="143.5" y="277.6" width="1.1" height="1.1" fill="#e02b22"/>
<rect x="136.8" y="277.2" width="1.1" height="1.1" fill="#e02b22"/>
<rect x="145.3" y="311.1" width="1.1" height="1.1" fill="#e02b22"/>
<rect x="127.8" y="311.5" width="1.1" height="1.1" fill="#e02b22"/>
<rect x="128.7" y="280.9" width="1.1" height="1.1" fill="#e02b22"/>
<rect x="144.9" y="271.9" width="1.1" height="1.1" fill="#e02b22"/>
<rect x="148.5" y="286.7" width="1.1" height="1.1" fill="#e02b22"/>
<rect x="129.8" y="292.9" width="1.1" height="1.1" fill="#e02b22"/>
<rect x="138.4" y="285.3" width="1.1" height="1.1" fill="#e02b22"/>
<rect x="155.1" y="272.2" width="1.1" height="1.1" fill="#e02b22"/>
<rect x="130.9" y="274.1" width="1.1" height="1.1" fill="#e02b22"/>
<rect x="144.5" y="275.5" width="1.1" height="1.1" fill="#e02b22"/>
<rect x="135.9" y="301.5" width="1.1" height="1.1" fill="#e02b22"/>
<rect x="128.9" y="288.0" width="1.1" height="1.1" fill="#e02b22"/>
<rect x="131.2" y="272.5" width="1.1" height="1.1" fill="#e02b22"/>
<rect x="131.8" y="237.8" width="1.1" height="1.1" fill="#e02b22"/>
<rect x="139.9" y="275.7" width="1.1" height="1.1" fill="#e02b22"/>
<rect x="140.7" y="257.3" width="1.1" height="1.1" fill="#e02b22"/>
<rect x="129.6" y="250.1" width="1.1" height="1.1" fill="#e02b22"/>
<rect x="146.1" y="295.3" width="1.1" height="1.1" fill="#e02b22"/>
<rect x="132.6" y="307.3" width="1.1" height="1.1" fill="#e02b22"/>
<rect x="135.8" y="286.9" width="1.1" height="1.1" fill="#e02b22"/>
<rect x="148.8" y="281.8" width="1.1" height="1.1" fill="#e02b22"/>
<rect x="140.3" y="272.7" width="1.1" height="1.1" fill="#e02b22"/>
<rect x="142.6" y="270.5" width="1.1" height="1.1" fill="#e02b22"/>
<rect x="142.1" y="283.7" width="1.1" height="1.1" fill="#e02b22"/>
<rect x="154.7" y="295.2" width="1.1" height="1.1" fill="#e02b22"/>
<rect x="137.4" y="279.3" width="1.1" height="1.1" fill="#e02b22"/>
<rect x="144.7" y="235.1" width="1.1" height="1.1" fill="#e02b22"/>
<rect x="132.0" y="308.9" width="1.1" height="1.1" fill="#e02b22"/>
<rect x="146.1" y="270.4" width="1.1" height="1.1" fill="#e02b22"/>
<rect x="132.0" y="294.0" width="1.1" height="1.1" fill="#e02b22"/>
<rect x="128.8" y="306.7" width="1.1" height="1.1" fill="#e02b22"/>
<rect x="144.3" y="266.9" width="1.1" height="1.1" fill="#e02b22"/>
<rect x="127.7" y="280.2" width="1.1" height="1.1" fill="#e02b22"/>
<rect x="146.3" y="249.7" width="1.1" height="1.1" fill="#e02b22"/>
<rect x="148.2" y="306.9" width="1.1" height="1.1" fill="#e02b22"/>
<rect x="147.5" y="278.4" width="1.1" height="1.1" fill="#e02b22"/>
<rect x="155.6" y="314.3" width="1.1" height="1.1" fill="#e02b22"/>
<rect x="145.7" y="288.5" width="1.1" height="1.1" fill="#e02b22"/>
<rect x="136.5" y="249.7" width="1.1" height="1.1" fill="#e02b22"/>
<rect x="144.9" y="306.6" width="1.1" height="1.1" fill="#e02b22"/>
<rect x="134.1" y="313.5" width="1.1" height="1.1" fill="#e02b22"/>
<rect x="150.8" y="246.3" width="1.1" height="1.1" fill="#e02b22"/>
<rect x="142.7" y="285.6" width="1.1" height="1.1" fill="#e02b22"/>
<rect x="132.2" y="271.7" width="1.1" height="1.1" fill="#e02b22"/>
<rect x="131.5" y="248.8" width="1.1" height="1.1" fill="#e02b22"/>
<rect x="154.1" y="233.0" width="1.1" height="1.1" fill="#e02b22"/>
<rect x="132.8" y="271.9" width="1.1" height="1.1" fill="#e02b22"/>
<rect x="133.4" y="277.9" width="1.1" height="1.1" fill="#e02b22"/>
<rect x="143.4" y="281.4" width="1.1" height="1.1" fill="#e02b22"/>
<rect x="132.4" y="251.3" width="1.1" height="1.1" fill="#e02b22"/>
<rect x="141.8" y="308.2" width="1.1" height="1.1" fill="#e02b22"/>
<rect x="153.3" y="292.8" width="1.1" height="1.1" fill="#e02b22"/>
<rect x="138.3" y="297.9" width="1.1" height="1.1" fill="#e02b22"/>
<rect x="148.4" y="282.0" width="1.1" height="1.1" fill="#e02b22"/>
<rect x="133.1" y="293.7" width="1.1" height="1.1" fill="#e02b22"/>
<rect x="129.0" y="256.3" width="1.1" height="1.1" fill="#e02b22"/>
<rect x="152.9" y="281.2" width="1.1" height="1.1" fill="#e02b22"/>
<rect x="145.2" y="289.9" width="1.1" height="1.1" fill="#e02b22"/>
<rect x="139.5" y="294.3" width="1.1" height="1.1" fill="#e02b22"/>
<rect x="138.5" y="292.0" width="1.1" height="1.1" fill="#e02b22"/>
<rect x="153.1" y="283.4" width="1.1" height="1.1" fill="#e02b22"/>
<rect x="129.4" y="285.5" width="1.1" height="1.1" fill="#e02b22"/>
<rect x="142.1" y="274.4" width="1.1" height="1.1" fill="#e02b22"/>
<rect x="131.8" y="256.6" width="1.1" height="1.1" fill="#e02b22"/>
<rect x="144.2" y="282.9" width="1.1" height="1.1" fill="#e02b22"/>
<rect x="151.5" y="310.8" width="1.1" height="1.1" fill="#e02b22"/>
<rect x="140.9" y="297.4" width="1.1" height="1.1" fill="#e02b22"/>
<rect x="154.0" y="279.6" width="1.1" height="1.1" fill="#e02b22"/>
<rect x="146.7" y="279.9" width="1.1" height="1.1" fill="#e02b22"/>
<rect x="131.6" y="285.1" width="1.1" height="1.1" fill="#e02b22"/>
<rect x="153.0" y="272.1" width="1.1" height="1.1" fill="#e02b22"/>
<rect x="144.4" y="290.0" width="1.1" height="1.1" fill="#e02b22"/>
<rect x="146.9" y="284.6" width="1.1" height="1.1" fill="#e02b22"/>
<text x="82.4" y="332.1" font-size="7.4" text-anchor="middle" fill="#111" stroke="#111" stroke-width="0.1">Normal</text>
<text x="141.6" y="332.1" font-size="7.4" text-anchor="middle" fill="#111" stroke="#111" stroke-width="0.1">Tumor</text>
<text x="106.3" y="352.6" font-size="7.3" text-anchor="middle" fill="#111" stroke="#111" stroke-width="0.1">TNMplot</text>
<text x="44.2" y="367.1" font-size="7.3" text-anchor="middle" fill="#111" stroke="#111" stroke-width="0.1">Min</text>
<text x="59.5" y="367.1" font-size="7.3" text-anchor="middle" fill="#111" stroke="#111" stroke-width="0.1">Q1</text>
<text x="79.7" y="367.1" font-size="7.3" text-anchor="middle" fill="#111" stroke="#111" stroke-width="0.1">Med</text>
<text x="102.3" y="367.1" font-size="7.3" text-anchor="middle" fill="#111" stroke="#111" stroke-width="0.1">Q3</text>
<text x="121.0" y="367.1" font-size="7.3" text-anchor="middle" fill="#111" stroke="#111" stroke-width="0.1">Max</text>
<text x="155.8" y="367.1" font-size="7.3" text-anchor="middle" fill="#111" stroke="#111" stroke-width="0.1">Upper whisker</text>
<text x="188.9" y="367.1" font-size="7.3" text-anchor="middle" fill="#111" stroke="#111" stroke-width="0.1">N</text>
<text x="11.3" y="377.3" font-size="7.3" text-anchor="start" fill="#111" stroke="#111" stroke-width="0.1">Normal</text>
<text x="43.7" y="377.3" font-size="7.3" text-anchor="middle" fill="#111" stroke="#111" stroke-width="0.1">82</text>
<text x="58.1" y="377.3" font-size="7.3" text-anchor="middle" fill="#111" stroke="#111" stroke-width="0.1">365.5</text>
<text x="81.5" y="377.3" font-size="7.3" text-anchor="middle" fill="#111" stroke="#111" stroke-width="0.1">462.5</text>
<text x="101.3" y="377.3" font-size="7.3" text-anchor="middle" fill="#111" stroke="#111" stroke-width="0.1">544</text>
<text x="120.8" y="377.3" font-size="7.3" text-anchor="middle" fill="#111" stroke="#111" stroke-width="0.1">924</text>
<text x="157.6" y="377.3" font-size="7.3" text-anchor="middle" fill="#111" stroke="#111" stroke-width="0.1">805</text>
<text x="185.4" y="377.3" font-size="7.3" text-anchor="middle" fill="#111" stroke="#111" stroke-width="0.1">112</text>
<text x="11.3" y="390.2" font-size="7.3" text-anchor="start" fill="#111" stroke="#111" stroke-width="0.1">Tumor</text>
<text x="43.7" y="390.2" font-size="7.3" text-anchor="middle" fill="#111" stroke="#111" stroke-width="0.1">71</text>
<text x="58.1" y="390.2" font-size="7.3" text-anchor="middle" fill="#111" stroke="#111" stroke-width="0.1">298.5</text>
<text x="81.5" y="390.2" font-size="7.3" text-anchor="middle" fill="#111" stroke="#111" stroke-width="0.1">413.5</text>
<text x="101.3" y="390.2" font-size="7.3" text-anchor="middle" fill="#111" stroke="#111" stroke-width="0.1">645</text>
<text x="120.8" y="390.2" font-size="7.3" text-anchor="middle" fill="#111" stroke="#111" stroke-width="0.1">2052</text>
<text x="157.6" y="390.2" font-size="7.3" text-anchor="middle" fill="#111" stroke="#111" stroke-width="0.1">1025</text>
<text x="185.4" y="390.2" font-size="7.3" text-anchor="middle" fill="#111" stroke="#111" stroke-width="0.1">112</text>
<text x="201.5" y="13.8" font-size="16.5" text-anchor="start" fill="#111" font-weight="bold">B</text>
<polyline points="236.7,16.7 238.0,17.2 239.4,18.3 241.2,20.9 243.4,24.6 245.6,28.3 250.1,34.7 256.8,40.5 263.5,44.7 272.4,49.5 281.3,52.7 290.2,55.6 299.1,58.3 308.1,61.1 314.8,63.3 321.4,64.8 337.5,64.8 337.5,76.6 363.8,76.6" fill="none" stroke="#000" stroke-width="0.7"/>
<polyline points="236.7,16.7 238.0,17.2 239.4,18.3 241.2,20.9 243.4,24.6 245.6,28.3 250.1,34.7 256.8,40.5 263.5,44.7 272.4,49.5 281.3,52.7 290.2,55.6 299.1,58.3 308.1,61.1 314.8,63.3 321.4,64.8" fill="none" stroke="#000" stroke-width="2.4" stroke-linejoin="round"/>
<line x1="325.9" y1="63.6" x2="325.9" y2="66.0" stroke="#000" stroke-width="0.5"/>
<line x1="328.1" y1="63.6" x2="328.1" y2="66.0" stroke="#000" stroke-width="0.5"/>
<line x1="330.4" y1="63.6" x2="330.4" y2="66.0" stroke="#000" stroke-width="0.5"/>
<line x1="339.3" y1="75.4" x2="339.3" y2="77.8" stroke="#000" stroke-width="0.5"/>
<line x1="352.7" y1="75.4" x2="352.7" y2="77.8" stroke="#000" stroke-width="0.5"/>
<line x1="359.4" y1="75.4" x2="359.4" y2="77.8" stroke="#000" stroke-width="0.5"/>
<line x1="362.5" y1="75.4" x2="362.5" y2="77.8" stroke="#000" stroke-width="0.5"/>
<polyline points="236.7,16.7 238.0,17.2 239.4,18.8 241.2,21.5 243.4,25.7 245.6,29.9 250.1,36.3 256.8,42.6 263.5,46.9 272.4,51.8 281.3,55.0 290.2,58.0 299.1,60.6 308.1,63.8 313.4,66.4 321.4,67.8 332.1,67.8 332.1,85.9 351.8,85.9" fill="none" stroke="#DF536B" stroke-width="0.7"/>
<polyline points="236.7,16.7 238.0,17.2 239.4,18.8 241.2,21.5 243.4,25.7 245.6,29.9 250.1,36.3 256.8,42.6 263.5,46.9 272.4,51.8 281.3,55.0 290.2,58.0 299.1,60.6 308.1,63.8 313.4,66.4 321.4,67.8" fill="none" stroke="#DF536B" stroke-width="2.4" stroke-linejoin="round"/>
<line x1="323.7" y1="66.6" x2="323.7" y2="69.0" stroke="#DF536B" stroke-width="0.5"/>
<line x1="325.9" y1="66.6" x2="325.9" y2="69.0" stroke="#DF536B" stroke-width="0.5"/>
<line x1="328.1" y1="66.6" x2="328.1" y2="69.0" stroke="#DF536B" stroke-width="0.5"/>
<line x1="343.7" y1="84.7" x2="343.7" y2="87.1" stroke="#DF536B" stroke-width="0.5"/>
<line x1="348.2" y1="84.7" x2="348.2" y2="87.1" stroke="#DF536B" stroke-width="0.5"/>
<rect x="233.3" y="13.2" width="134.2" height="113.2" fill="none" stroke="#7a7a7a" stroke-width="0.8"/>
<line x1="231.3" y1="122.5" x2="233.3" y2="122.5" stroke="#7a7a7a" stroke-width="0.6"/>
<text x="224.8" y="121.7" font-size="7.3" text-anchor="middle" fill="#111" stroke="#111" stroke-width="0.1" transform="rotate(-90 224.8 121.7)" dy="2.6">0.0</text>
<line x1="231.3" y1="101.3" x2="233.3" y2="101.3" stroke="#7a7a7a" stroke-width="0.6"/>
<text x="224.8" y="100.5" font-size="7.3" text-anchor="middle" fill="#111" stroke="#111" stroke-width="0.1" transform="rotate(-90 224.8 100.5)" dy="2.6">0.2</text>
<line x1="231.3" y1="80.2" x2="233.3" y2="80.2" stroke="#7a7a7a" stroke-width="0.6"/>
<text x="224.8" y="79.4" font-size="7.3" text-anchor="middle" fill="#111" stroke="#111" stroke-width="0.1" transform="rotate(-90 224.8 79.4)" dy="2.6">0.4</text>
<line x1="231.3" y1="59.0" x2="233.3" y2="59.0" stroke="#7a7a7a" stroke-width="0.6"/>
<text x="224.8" y="58.2" font-size="7.3" text-anchor="middle" fill="#111" stroke="#111" stroke-width="0.1" transform="rotate(-90 224.8 58.2)" dy="2.6">0.6</text>
<line x1="231.3" y1="37.9" x2="233.3" y2="37.9" stroke="#7a7a7a" stroke-width="0.6"/>
<text x="224.8" y="37.1" font-size="7.3" text-anchor="middle" fill="#111" stroke="#111" stroke-width="0.1" transform="rotate(-90 224.8 37.1)" dy="2.6">0.8</text>
<line x1="231.3" y1="16.7" x2="233.3" y2="16.7" stroke="#7a7a7a" stroke-width="0.6"/>
<text x="224.8" y="15.9" font-size="7.3" text-anchor="middle" fill="#111" stroke="#111" stroke-width="0.1" transform="rotate(-90 224.8 15.9)" dy="2.6">1.0</text>
<line x1="237.6" y1="126.4" x2="237.6" y2="128.4" stroke="#7a7a7a" stroke-width="0.6"/>
<text x="237.6" y="137.0" font-size="7.3" text-anchor="middle" fill="#111" stroke="#111" stroke-width="0.1">0</text>
<line x1="259.4" y1="126.4" x2="259.4" y2="128.4" stroke="#7a7a7a" stroke-width="0.6"/>
<text x="259.4" y="137.0" font-size="7.3" text-anchor="middle" fill="#111" stroke="#111" stroke-width="0.1">50</text>
<line x1="281.2" y1="126.4" x2="281.2" y2="128.4" stroke="#7a7a7a" stroke-width="0.6"/>
<text x="281.2" y="137.0" font-size="7.3" text-anchor="middle" fill="#111" stroke="#111" stroke-width="0.1">100</text>
<line x1="302.9" y1="126.4" x2="302.9" y2="128.4" stroke="#7a7a7a" stroke-width="0.6"/>
<text x="302.9" y="137.0" font-size="7.3" text-anchor="middle" fill="#111" stroke="#111" stroke-width="0.1">150</text>
<line x1="324.7" y1="126.4" x2="324.7" y2="128.4" stroke="#7a7a7a" stroke-width="0.6"/>
<text x="324.7" y="137.0" font-size="7.3" text-anchor="middle" fill="#111" stroke="#111" stroke-width="0.1">200</text>
<line x1="346.5" y1="126.4" x2="346.5" y2="128.4" stroke="#7a7a7a" stroke-width="0.6"/>
<text x="346.5" y="137.0" font-size="7.3" text-anchor="middle" fill="#111" stroke="#111" stroke-width="0.1">250</text>
<text x="295.4" y="9.1" font-size="7.3" text-anchor="middle" fill="#111" stroke="#111" stroke-width="0.1">SIX2</text>
<text x="298.7" y="146.4" font-size="7.3" text-anchor="middle" fill="#111" stroke="#111" stroke-width="0.1">Time (months)</text>
<text x="214.4" y="74.3" font-size="7.3" text-anchor="middle" fill="#111" stroke="#111" stroke-width="0.1" transform="rotate(-90 214.4 74.3)" dy="2.6">Overall Survival Probability</text>
<text x="363.1" y="23.4" font-size="7.3" text-anchor="end" fill="#111" stroke="#111" stroke-width="0.1">HR = 1.11 (1 − 1.23)</text>
<text x="357.0" y="33.6" font-size="7.3" text-anchor="end" fill="#111" stroke="#111" stroke-width="0.1">logrank P = 0.044</text>
<text x="234.9" y="104.6" font-size="7.3" text-anchor="start" fill="#111" stroke="#111" stroke-width="0.1">Expression</text>
<line x1="237.9" y1="112.5" x2="249.9" y2="112.5" stroke="#000" stroke-width="1.6"/>
<line x1="237.9" y1="120.3" x2="249.9" y2="120.3" stroke="#DF536B" stroke-width="1.6"/>
<text x="252.5" y="114.1" font-size="7.3" text-anchor="start" fill="#111" stroke="#111" stroke-width="0.1">low</text>
<text x="252.5" y="123.1" font-size="7.3" text-anchor="start" fill="#111" stroke="#111" stroke-width="0.1">high</text>
<text x="255.7" y="157.7" font-size="7.3" text-anchor="start" fill="#111" stroke="#111" stroke-width="0.1">Number at risk</text>
<text x="235.8" y="168.3" font-size="7.3" text-anchor="start" fill="#111" stroke="#111" stroke-width="0.1">low</text>
<text x="235.8" y="181.5" font-size="7.3" text-anchor="start" fill="#DF536B" stroke="#DF536B" stroke-width="0.1">high</text>
<text x="269.4" y="168.3" font-size="7.3" text-anchor="middle" fill="#111" stroke="#111" stroke-width="0.1">2466</text>
<text x="294.0" y="168.3" font-size="7.3" text-anchor="middle" fill="#111" stroke="#111" stroke-width="0.1">1496</text>
<text x="317.0" y="168.3" font-size="7.3" text-anchor="middle" fill="#111" stroke="#111" stroke-width="0.1">588</text>
<text x="336.8" y="168.3" font-size="7.3" text-anchor="middle" fill="#111" stroke="#111" stroke-width="0.1">156</text>
<text x="353.7" y="168.3" font-size="7.3" text-anchor="middle" fill="#111" stroke="#111" stroke-width="0.1">18</text>
<text x="367.1" y="168.3" font-size="7.3" text-anchor="middle" fill="#111" stroke="#111" stroke-width="0.1">2</text>
<text x="269.4" y="181.5" font-size="7.3" text-anchor="middle" fill="#DF536B" stroke="#DF536B" stroke-width="0.1">2463</text>
<text x="294.0" y="181.5" font-size="7.3" text-anchor="middle" fill="#DF536B" stroke="#DF536B" stroke-width="0.1">1387</text>
<text x="317.0" y="181.5" font-size="7.3" text-anchor="middle" fill="#DF536B" stroke="#DF536B" stroke-width="0.1">548</text>
<text x="336.8" y="181.5" font-size="7.3" text-anchor="middle" fill="#DF536B" stroke="#DF536B" stroke-width="0.1">90</text>
<text x="353.7" y="181.5" font-size="7.3" text-anchor="middle" fill="#DF536B" stroke="#DF536B" stroke-width="0.1">9</text>
<text x="367.1" y="181.5" font-size="7.3" text-anchor="middle" fill="#DF536B" stroke="#DF536B" stroke-width="0.1">1</text>
<text x="389.5" y="13.8" font-size="16.5" text-anchor="start" fill="#111" font-weight="bold">C</text>
<polyline points="432.6,15.0 434.7,16.1 436.8,19.2 441.0,25.1 445.3,29.6 450.6,33.4 457.9,36.2 466.4,38.3 475.2,40.3 487.5,43.4 494.2,46.1 496.7,47.5 511.9,47.5 513.6,50.3 520.0,51.1 520.0,57.3 526.3,57.3 526.3,68.0 559.2,68.0" fill="none" stroke="#000" stroke-width="0.7"/>
<polyline points="432.6,15.0 434.7,16.1 436.8,19.2 441.0,25.1 445.3,29.6 450.6,33.4 457.9,36.2 466.4,38.3 475.2,40.3 487.5,43.4 494.2,46.1 496.7,47.5 511.9,47.5 513.6,50.3" fill="none" stroke="#000" stroke-width="2.7" stroke-linejoin="round"/>
<line x1="517.0" y1="49.1" x2="517.0" y2="51.5" stroke="#000" stroke-width="0.5"/>
<line x1="519.1" y1="49.1" x2="519.1" y2="51.5" stroke="#000" stroke-width="0.5"/>
<line x1="527.6" y1="66.8" x2="527.6" y2="69.2" stroke="#000" stroke-width="0.5"/>
<line x1="529.7" y1="66.8" x2="529.7" y2="69.2" stroke="#000" stroke-width="0.5"/>
<line x1="552.9" y1="66.8" x2="552.9" y2="69.2" stroke="#000" stroke-width="0.5"/>
<line x1="558.4" y1="66.8" x2="558.4" y2="69.2" stroke="#000" stroke-width="0.5"/>
<polyline points="432.6,15.0 434.7,16.6 436.8,20.3 441.0,29.8 444.4,34.6 448.2,37.9 457.1,43.1 469.3,46.7 478.2,48.9 487.5,50.5 494.2,51.4 496.7,54.9 532.6,54.9 532.6,88.0 534.3,88.0" fill="none" stroke="#DF536B" stroke-width="0.7"/>
<polyline points="432.6,15.0 434.7,16.6 436.8,20.3 441.0,29.8 444.4,34.6 448.2,37.9 457.1,43.1 469.3,46.7 478.2,48.9 487.5,50.5 494.2,51.4 496.7,54.9" fill="none" stroke="#DF536B" stroke-width="2.7" stroke-linejoin="round"/>
<line x1="512.8" y1="53.7" x2="512.8" y2="56.1" stroke="#DF536B" stroke-width="0.5"/>
<line x1="514.9" y1="53.7" x2="514.9" y2="56.1" stroke="#DF536B" stroke-width="0.5"/>
<line x1="517.0" y1="53.7" x2="517.0" y2="56.1" stroke="#DF536B" stroke-width="0.5"/>
<line x1="519.1" y1="53.7" x2="519.1" y2="56.1" stroke="#DF536B" stroke-width="0.5"/>
<line x1="521.2" y1="53.7" x2="521.2" y2="56.1" stroke="#DF536B" stroke-width="0.5"/>
<line x1="523.3" y1="53.7" x2="523.3" y2="56.1" stroke="#DF536B" stroke-width="0.5"/>
<line x1="533.9" y1="86.8" x2="533.9" y2="89.2" stroke="#DF536B" stroke-width="0.5"/>
<rect x="427.6" y="11.4" width="136.4" height="113.8" fill="none" stroke="#7a7a7a" stroke-width="0.8"/>
<line x1="425.6" y1="121.0" x2="427.6" y2="121.0" stroke="#7a7a7a" stroke-width="0.6"/>
<text x="419" y="120.2" font-size="7.3" text-anchor="middle" fill="#111" stroke="#111" stroke-width="0.1" transform="rotate(-90 419 120.2)" dy="2.6">0.0</text>
<line x1="425.6" y1="99.8" x2="427.6" y2="99.8" stroke="#7a7a7a" stroke-width="0.6"/>
<text x="419" y="99.0" font-size="7.3" text-anchor="middle" fill="#111" stroke="#111" stroke-width="0.1" transform="rotate(-90 419 99.0)" dy="2.6">0.2</text>
<line x1="425.6" y1="78.6" x2="427.6" y2="78.6" stroke="#7a7a7a" stroke-width="0.6"/>
<text x="419" y="77.8" font-size="7.3" text-anchor="middle" fill="#111" stroke="#111" stroke-width="0.1" transform="rotate(-90 419 77.8)" dy="2.6">0.4</text>
<line x1="425.6" y1="57.4" x2="427.6" y2="57.4" stroke="#7a7a7a" stroke-width="0.6"/>
<text x="419" y="56.6" font-size="7.3" text-anchor="middle" fill="#111" stroke="#111" stroke-width="0.1" transform="rotate(-90 419 56.6)" dy="2.6">0.6</text>
<line x1="425.6" y1="36.2" x2="427.6" y2="36.2" stroke="#7a7a7a" stroke-width="0.6"/>
<text x="419" y="35.4" font-size="7.3" text-anchor="middle" fill="#111" stroke="#111" stroke-width="0.1" transform="rotate(-90 419 35.4)" dy="2.6">0.8</text>
<line x1="425.6" y1="15.0" x2="427.6" y2="15.0" stroke="#7a7a7a" stroke-width="0.6"/>
<text x="419" y="14.2" font-size="7.3" text-anchor="middle" fill="#111" stroke="#111" stroke-width="0.1" transform="rotate(-90 419 14.2)" dy="2.6">1.0</text>
<line x1="432.6" y1="125.2" x2="432.6" y2="127.2" stroke="#7a7a7a" stroke-width="0.6"/>
<text x="432.6" y="136.3" font-size="7.3" text-anchor="middle" fill="#111" stroke="#111" stroke-width="0.1">0</text>
<line x1="453.7" y1="125.2" x2="453.7" y2="127.2" stroke="#7a7a7a" stroke-width="0.6"/>
<text x="453.7" y="136.3" font-size="7.3" text-anchor="middle" fill="#111" stroke="#111" stroke-width="0.1">50</text>
<line x1="474.8" y1="125.2" x2="474.8" y2="127.2" stroke="#7a7a7a" stroke-width="0.6"/>
<text x="474.8" y="136.3" font-size="7.3" text-anchor="middle" fill="#111" stroke="#111" stroke-width="0.1">100</text>
<line x1="495.9" y1="125.2" x2="495.9" y2="127.2" stroke="#7a7a7a" stroke-width="0.6"/>
<text x="495.9" y="136.3" font-size="7.3" text-anchor="middle" fill="#111" stroke="#111" stroke-width="0.1">150</text>
<line x1="517.0" y1="125.2" x2="517.0" y2="127.2" stroke="#7a7a7a" stroke-width="0.6"/>
<text x="517.0" y="136.3" font-size="7.3" text-anchor="middle" fill="#111" stroke="#111" stroke-width="0.1">200</text>
<line x1="538.1" y1="125.2" x2="538.1" y2="127.2" stroke="#7a7a7a" stroke-width="0.6"/>
<text x="538.1" y="136.3" font-size="7.3" text-anchor="middle" fill="#111" stroke="#111" stroke-width="0.1">250</text>
<line x1="559.2" y1="125.2" x2="559.2" y2="127.2" stroke="#7a7a7a" stroke-width="0.6"/>
<text x="559.2" y="136.3" font-size="7.3" text-anchor="middle" fill="#111" stroke="#111" stroke-width="0.1">300</text>
<text x="494.3" y="7.9" font-size="7.3" text-anchor="middle" fill="#111" stroke="#111" stroke-width="0.1">SIX2</text>
<text x="499.4" y="146.4" font-size="7.3" text-anchor="middle" fill="#111" stroke="#111" stroke-width="0.1">Time (months)</text>
<text x="401.8" y="69.3" font-size="7.3" text-anchor="middle" fill="#111" stroke="#111" stroke-width="0.1" transform="rotate(-90 401.8 69.3)" dy="2.6">Distant Metastasis Free Survival</text>
<text x="410.6" y="69.3" font-size="7.3" text-anchor="middle" fill="#111" stroke="#111" stroke-width="0.1" transform="rotate(-90 410.6 69.3)" dy="2.6">Probability</text>
<text x="560.4" y="23.7" font-size="7.3" text-anchor="end" fill="#111" stroke="#111" stroke-width="0.1">HR = 1.39 (1.19 − 1.62)</text>
<text x="559.2" y="33.8" font-size="7.3" text-anchor="end" fill="#111" stroke="#111" stroke-width="0.1">logrank P = 2.9e−05</text>
<text x="431.7" y="101.4" font-size="7.3" text-anchor="start" fill="#111" stroke="#111" stroke-width="0.1">Expression</text>
<line x1="432.6" y1="112.0" x2="444.5" y2="112.0" stroke="#000" stroke-width="1.6"/>
<line x1="432.6" y1="118.2" x2="444.5" y2="118.2" stroke="#DF536B" stroke-width="1.6"/>
<text x="448.8" y="110.1" font-size="7.3" text-anchor="start" fill="#111" stroke="#111" stroke-width="0.1">low</text>
<text x="448.8" y="119.1" font-size="7.3" text-anchor="start" fill="#111" stroke="#111" stroke-width="0.1">high</text>
<text x="441.7" y="157.7" font-size="7.3" text-anchor="start" fill="#111" stroke="#111" stroke-width="0.1">Number at risk</text>
<text x="427.8" y="168.0" font-size="7.3" text-anchor="start" fill="#111" stroke="#111" stroke-width="0.1">low</text>
<text x="426.6" y="180.1" font-size="7.3" text-anchor="start" fill="#DF536B" stroke="#DF536B" stroke-width="0.1">high</text>
<text x="468.3" y="168.0" font-size="7.3" text-anchor="end" fill="#111" stroke="#111" stroke-width="0.1">1385</text>
<text x="489.0" y="168.0" font-size="7.3" text-anchor="end" fill="#111" stroke="#111" stroke-width="0.1">905</text>
<text x="509.4" y="168.0" font-size="7.3" text-anchor="end" fill="#111" stroke="#111" stroke-width="0.1">414</text>
<text x="529.5" y="168.0" font-size="7.3" text-anchor="end" fill="#111" stroke="#111" stroke-width="0.1">125</text>
<text x="542.5" y="168.0" font-size="7.3" text-anchor="end" fill="#111" stroke="#111" stroke-width="0.1">18</text>
<text x="553.6" y="168.0" font-size="7.3" text-anchor="end" fill="#111" stroke="#111" stroke-width="0.1">2</text>
<text x="566.0" y="168.0" font-size="7.3" text-anchor="end" fill="#111" stroke="#111" stroke-width="0.1">0</text>
<text x="468.3" y="180.1" font-size="7.3" text-anchor="end" fill="#DF536B" stroke="#DF536B" stroke-width="0.1">1380</text>
<text x="489.0" y="180.1" font-size="7.3" text-anchor="end" fill="#DF536B" stroke="#DF536B" stroke-width="0.1">726</text>
<text x="509.4" y="180.1" font-size="7.3" text-anchor="end" fill="#DF536B" stroke="#DF536B" stroke-width="0.1">267</text>
<text x="529.5" y="180.1" font-size="7.3" text-anchor="end" fill="#DF536B" stroke="#DF536B" stroke-width="0.1">56</text>
<text x="542.5" y="180.1" font-size="7.3" text-anchor="end" fill="#DF536B" stroke="#DF536B" stroke-width="0.1">9</text>
<text x="553.6" y="180.1" font-size="7.3" text-anchor="end" fill="#DF536B" stroke="#DF536B" stroke-width="0.1">0</text>
<text x="566.0" y="180.1" font-size="7.3" text-anchor="end" fill="#DF536B" stroke="#DF536B" stroke-width="0.1">0</text>
<text x="202.6" y="217.1" font-size="16.5" text-anchor="start" fill="#111" font-weight="bold">E</text>
<polyline points="235.4,217.3 252.2,218.4 266.0,219.6 277.9,221.4 278.7,223.5 296.6,226.6 320.0,229.6 340.1,232.2 345.6,233.5 348.0,235.8 358.0,235.8 358.0,243.2 360.9,243.2" fill="none" stroke="#000" stroke-width="0.7"/>
<polyline points="278.7,223.5 296.6,226.6 320.0,229.6 340.1,232.2 345.6,233.5 348.0,235.8 358.0,235.8 358.0,243.2" fill="none" stroke="#000" stroke-width="2.8" stroke-linejoin="round"/>
<polyline points="235.4,217.3 252.2,218.4 266.0,219.6 277.9,221.4 278.7,221.9 296.6,224.2 320.0,226.7 340.1,229.0 350.1,230.6 363.0,231.6" fill="none" stroke="#DF536B" stroke-width="0.7"/>
<polyline points="278.7,221.9 296.6,224.2 320.0,226.7 340.1,229.0 350.1,230.6 363.0,231.6" fill="none" stroke="#DF536B" stroke-width="3.4" stroke-linejoin="round"/>
<line x1="252.2" y1="217.2" x2="252.2" y2="219.6" stroke="#DF536B" stroke-width="0.5"/>
<rect x="230.5" y="213.2" width="137.0" height="115.1" fill="none" stroke="#7a7a7a" stroke-width="0.8"/>
<line x1="228.5" y1="324.0" x2="230.5" y2="324.0" stroke="#7a7a7a" stroke-width="0.6"/>
<text x="221.3" y="323.2" font-size="7.3" text-anchor="middle" fill="#111" stroke="#111" stroke-width="0.1" transform="rotate(-90 221.3 323.2)" dy="2.6">0.0</text>
<line x1="228.5" y1="302.7" x2="230.5" y2="302.7" stroke="#7a7a7a" stroke-width="0.6"/>
<text x="221.3" y="301.9" font-size="7.3" text-anchor="middle" fill="#111" stroke="#111" stroke-width="0.1" transform="rotate(-90 221.3 301.9)" dy="2.6">0.2</text>
<line x1="228.5" y1="281.3" x2="230.5" y2="281.3" stroke="#7a7a7a" stroke-width="0.6"/>
<text x="221.3" y="280.5" font-size="7.3" text-anchor="middle" fill="#111" stroke="#111" stroke-width="0.1" transform="rotate(-90 221.3 280.5)" dy="2.6">0.4</text>
<line x1="228.5" y1="260.0" x2="230.5" y2="260.0" stroke="#7a7a7a" stroke-width="0.6"/>
<text x="221.3" y="259.2" font-size="7.3" text-anchor="middle" fill="#111" stroke="#111" stroke-width="0.1" transform="rotate(-90 221.3 259.2)" dy="2.6">0.6</text>
<line x1="228.5" y1="238.6" x2="230.5" y2="238.6" stroke="#7a7a7a" stroke-width="0.6"/>
<text x="221.3" y="237.8" font-size="7.3" text-anchor="middle" fill="#111" stroke="#111" stroke-width="0.1" transform="rotate(-90 221.3 237.8)" dy="2.6">0.8</text>
<line x1="228.5" y1="217.3" x2="230.5" y2="217.3" stroke="#7a7a7a" stroke-width="0.6"/>
<text x="221.3" y="216.5" font-size="7.3" text-anchor="middle" fill="#111" stroke="#111" stroke-width="0.1" transform="rotate(-90 221.3 216.5)" dy="2.6">1.0</text>
<line x1="235.4" y1="328.3" x2="235.4" y2="330.3" stroke="#7a7a7a" stroke-width="0.6"/>
<text x="235.4" y="339.3" font-size="7.3" text-anchor="middle" fill="#111" stroke="#111" stroke-width="0.1">0</text>
<line x1="266.6" y1="328.3" x2="266.6" y2="330.3" stroke="#7a7a7a" stroke-width="0.6"/>
<text x="266.6" y="339.3" font-size="7.3" text-anchor="middle" fill="#111" stroke="#111" stroke-width="0.1">20</text>
<line x1="297.8" y1="328.3" x2="297.8" y2="330.3" stroke="#7a7a7a" stroke-width="0.6"/>
<text x="297.8" y="339.3" font-size="7.3" text-anchor="middle" fill="#111" stroke="#111" stroke-width="0.1">40</text>
<line x1="328.9" y1="328.3" x2="328.9" y2="330.3" stroke="#7a7a7a" stroke-width="0.6"/>
<text x="328.9" y="339.3" font-size="7.3" text-anchor="middle" fill="#111" stroke="#111" stroke-width="0.1">60</text>
<line x1="360.1" y1="328.3" x2="360.1" y2="330.3" stroke="#7a7a7a" stroke-width="0.6"/>
<text x="360.1" y="339.3" font-size="7.3" text-anchor="middle" fill="#111" stroke="#111" stroke-width="0.1">80</text>
<text x="296.0" y="208.8" font-size="7.3" text-anchor="middle" fill="#111" stroke="#111" stroke-width="0.1">TRIM21</text>
<text x="297.0" y="349.3" font-size="7.3" text-anchor="middle" fill="#111" stroke="#111" stroke-width="0.1">Time (months)</text>
<text x="214.4" y="273.1" font-size="7.3" text-anchor="middle" fill="#111" stroke="#111" stroke-width="0.1" transform="rotate(-90 214.4 273.1)" dy="2.6">Overall Survival Probability</text>
<text x="363.2" y="314.0" font-size="7.3" text-anchor="end" fill="#111" stroke="#111" stroke-width="0.1">HR = 0.79 (0.62 − 1.01)</text>
<text x="356.6" y="322.3" font-size="7.3" text-anchor="end" fill="#111" stroke="#111" stroke-width="0.1">logrank P = 0.062</text>
<text x="234.9" y="307.2" font-size="7.3" text-anchor="start" fill="#111" stroke="#111" stroke-width="0.1">Expression</text>
<line x1="235.2" y1="314.6" x2="247.2" y2="314.6" stroke="#000" stroke-width="1.6"/>
<line x1="235.2" y1="321.7" x2="247.2" y2="321.7" stroke="#DF536B" stroke-width="1.6"/>
<text x="251.6" y="314.3" font-size="7.3" text-anchor="start" fill="#111" stroke="#111" stroke-width="0.1">low</text>
<text x="251.6" y="323.8" font-size="7.3" text-anchor="start" fill="#111" stroke="#111" stroke-width="0.1">high</text>
<text x="255.7" y="366.6" font-size="7.3" text-anchor="start" fill="#111" stroke="#111" stroke-width="0.1">Number at risk</text>
<text x="235.8" y="377.5" font-size="7.3" text-anchor="start" fill="#111" stroke="#111" stroke-width="0.1">low</text>
<text x="235.8" y="390.0" font-size="7.3" text-anchor="start" fill="#DF536B" stroke="#DF536B" stroke-width="0.1">high</text>
<text x="263.3" y="377.5" font-size="7.3" text-anchor="middle" fill="#111" stroke="#111" stroke-width="0.1">743</text>
<text x="289.0" y="377.5" font-size="7.3" text-anchor="middle" fill="#111" stroke="#111" stroke-width="0.1">719</text>
<text x="316.3" y="377.5" font-size="7.3" text-anchor="middle" fill="#111" stroke="#111" stroke-width="0.1">569</text>
<text x="341.5" y="377.5" font-size="7.3" text-anchor="middle" fill="#111" stroke="#111" stroke-width="0.1">273</text>
<text x="364.2" y="377.5" font-size="7.3" text-anchor="middle" fill="#111" stroke="#111" stroke-width="0.1">13</text>
<text x="263.3" y="390.0" font-size="7.3" text-anchor="middle" fill="#DF536B" stroke="#DF536B" stroke-width="0.1">2233</text>
<text x="289.0" y="390.0" font-size="7.3" text-anchor="middle" fill="#DF536B" stroke="#DF536B" stroke-width="0.1">2183</text>
<text x="316.3" y="390.0" font-size="7.3" text-anchor="middle" fill="#DF536B" stroke="#DF536B" stroke-width="0.1">1751</text>
<text x="341.5" y="390.0" font-size="7.3" text-anchor="middle" fill="#DF536B" stroke="#DF536B" stroke-width="0.1">871</text>
<text x="364.2" y="390.0" font-size="7.3" text-anchor="middle" fill="#DF536B" stroke="#DF536B" stroke-width="0.1">54</text>
<text x="391.3" y="217.3" font-size="16.5" text-anchor="start" fill="#111" font-weight="bold">F</text>
<polyline points="431.4,217.6 433.6,219.7 437.9,228.3 441.2,233.6 444.9,237.9 448.3,242.7 451.9,246.7 455.9,249.6 460.7,252.0 468.0,254.6 478.0,259.0 485.6,260.7 503.2,266.0 517.3,269.5 533.1,270.0 533.1,281.0 547.4,281.0" fill="none" stroke="#000" stroke-width="0.7"/>
<polyline points="431.4,217.6 433.6,219.7 437.9,228.3 441.2,233.6 444.9,237.9 448.3,242.7 451.9,246.7 455.9,249.6 460.7,252.0 468.0,254.6 478.0,259.0 485.6,260.7 503.2,266.0 517.3,269.5" fill="none" stroke="#000" stroke-width="2.4" stroke-linejoin="round"/>
<line x1="526.0" y1="268.3" x2="526.0" y2="270.7" stroke="#000" stroke-width="0.5"/>
<line x1="536.2" y1="279.8" x2="536.2" y2="282.2" stroke="#000" stroke-width="0.5"/>
<line x1="540.7" y1="279.8" x2="540.7" y2="282.2" stroke="#000" stroke-width="0.5"/>
<line x1="545.1" y1="279.8" x2="545.1" y2="282.2" stroke="#000" stroke-width="0.5"/>
<polyline points="431.4,217.6 433.6,218.7 437.9,222.9 441.2,227.2 444.9,231.7 450.1,237.9 455.5,242.2 460.8,245.3 466.0,247.5 471.5,250.7 478.0,252.0 485.6,254.6 503.2,260.7 512.0,264.3 527.0,265.1 527.0,280.6 559.4,280.6" fill="none" stroke="#DF536B" stroke-width="0.7"/>
<polyline points="431.4,217.6 433.6,218.7 437.9,222.9 441.2,227.2 444.9,231.7 450.1,237.9 455.5,242.2 460.8,245.3 466.0,247.5 471.5,250.7 478.0,252.0 485.6,254.6 503.2,260.7 512.0,264.3" fill="none" stroke="#DF536B" stroke-width="2.4" stroke-linejoin="round"/>
<line x1="520.6" y1="263.1" x2="520.6" y2="265.5" stroke="#DF536B" stroke-width="0.5"/>
<line x1="522.8" y1="263.1" x2="522.8" y2="265.5" stroke="#DF536B" stroke-width="0.5"/>
<line x1="525.1" y1="263.1" x2="525.1" y2="265.5" stroke="#DF536B" stroke-width="0.5"/>
<line x1="531.8" y1="279.4" x2="531.8" y2="281.8" stroke="#DF536B" stroke-width="0.5"/>
<line x1="551.8" y1="279.4" x2="551.8" y2="281.8" stroke="#DF536B" stroke-width="0.5"/>
<line x1="556.3" y1="279.4" x2="556.3" y2="281.8" stroke="#DF536B" stroke-width="0.5"/>
<line x1="559.4" y1="279.4" x2="559.4" y2="281.8" stroke="#DF536B" stroke-width="0.5"/>
<rect x="426.4" y="213.2" width="137.6" height="115.9" fill="none" stroke="#7a7a7a" stroke-width="0.8"/>
<line x1="424.4" y1="324.3" x2="426.4" y2="324.3" stroke="#7a7a7a" stroke-width="0.6"/>
<text x="418.1" y="323.5" font-size="7.3" text-anchor="middle" fill="#111" stroke="#111" stroke-width="0.1" transform="rotate(-90 418.1 323.5)" dy="2.6">0.0</text>
<line x1="424.4" y1="303.0" x2="426.4" y2="303.0" stroke="#7a7a7a" stroke-width="0.6"/>
<text x="418.1" y="302.2" font-size="7.3" text-anchor="middle" fill="#111" stroke="#111" stroke-width="0.1" transform="rotate(-90 418.1 302.2)" dy="2.6">0.2</text>
<line x1="424.4" y1="281.6" x2="426.4" y2="281.6" stroke="#7a7a7a" stroke-width="0.6"/>
<text x="418.1" y="280.8" font-size="7.3" text-anchor="middle" fill="#111" stroke="#111" stroke-width="0.1" transform="rotate(-90 418.1 280.8)" dy="2.6">0.4</text>
<line x1="424.4" y1="260.3" x2="426.4" y2="260.3" stroke="#7a7a7a" stroke-width="0.6"/>
<text x="418.1" y="259.5" font-size="7.3" text-anchor="middle" fill="#111" stroke="#111" stroke-width="0.1" transform="rotate(-90 418.1 259.5)" dy="2.6">0.6</text>
<line x1="424.4" y1="238.9" x2="426.4" y2="238.9" stroke="#7a7a7a" stroke-width="0.6"/>
<text x="418.1" y="238.1" font-size="7.3" text-anchor="middle" fill="#111" stroke="#111" stroke-width="0.1" transform="rotate(-90 418.1 238.1)" dy="2.6">0.8</text>
<line x1="424.4" y1="217.6" x2="426.4" y2="217.6" stroke="#7a7a7a" stroke-width="0.6"/>
<text x="418.1" y="216.8" font-size="7.3" text-anchor="middle" fill="#111" stroke="#111" stroke-width="0.1" transform="rotate(-90 418.1 216.8)" dy="2.6">1.0</text>
<line x1="431.4" y1="329.1" x2="431.4" y2="331.1" stroke="#7a7a7a" stroke-width="0.6"/>
<text x="431.4" y="338.0" font-size="7.3" text-anchor="middle" fill="#111" stroke="#111" stroke-width="0.1">0</text>
<line x1="453.7" y1="329.1" x2="453.7" y2="331.1" stroke="#7a7a7a" stroke-width="0.6"/>
<text x="453.7" y="338.0" font-size="7.3" text-anchor="middle" fill="#111" stroke="#111" stroke-width="0.1">50</text>
<line x1="476.0" y1="329.1" x2="476.0" y2="331.1" stroke="#7a7a7a" stroke-width="0.6"/>
<text x="476.0" y="338.0" font-size="7.3" text-anchor="middle" fill="#111" stroke="#111" stroke-width="0.1">100</text>
<line x1="498.3" y1="329.1" x2="498.3" y2="331.1" stroke="#7a7a7a" stroke-width="0.6"/>
<text x="498.3" y="338.0" font-size="7.3" text-anchor="middle" fill="#111" stroke="#111" stroke-width="0.1">150</text>
<line x1="520.6" y1="329.1" x2="520.6" y2="331.1" stroke="#7a7a7a" stroke-width="0.6"/>
<text x="520.6" y="338.0" font-size="7.3" text-anchor="middle" fill="#111" stroke="#111" stroke-width="0.1">200</text>
<line x1="542.9" y1="329.1" x2="542.9" y2="331.1" stroke="#7a7a7a" stroke-width="0.6"/>
<text x="542.9" y="338.0" font-size="7.3" text-anchor="middle" fill="#111" stroke="#111" stroke-width="0.1">250</text>
<text x="495.2" y="208.8" font-size="7.3" text-anchor="middle" fill="#111" stroke="#111" stroke-width="0.1">TRIM21</text>
<text x="499.0" y="348.8" font-size="7.3" text-anchor="middle" fill="#111" stroke="#111" stroke-width="0.1">Time (months)</text>
<text x="401.8" y="274.4" font-size="7.3" text-anchor="middle" fill="#111" stroke="#111" stroke-width="0.1" transform="rotate(-90 401.8 274.4)" dy="2.6">Distant Metastasis Free Survival</text>
<text x="410.6" y="274.4" font-size="7.3" text-anchor="middle" fill="#111" stroke="#111" stroke-width="0.1" transform="rotate(-90 410.6 274.4)" dy="2.6">Probability</text>
<text x="560.4" y="224.6" font-size="7.3" text-anchor="end" fill="#111" stroke="#111" stroke-width="0.1">HR = 0.81 (0.73 − 0.9)</text>
<text x="559.5" y="233.9" font-size="7.3" text-anchor="end" fill="#111" stroke="#111" stroke-width="0.1">logrank P = 5.5e−05</text>
<text x="431.7" y="307.2" font-size="7.3" text-anchor="start" fill="#111" stroke="#111" stroke-width="0.1">Expression</text>
<line x1="431.3" y1="315.5" x2="443.5" y2="315.5" stroke="#000" stroke-width="1.6"/>
<line x1="431.3" y1="322.2" x2="443.5" y2="322.2" stroke="#DF536B" stroke-width="1.6"/>
<text x="448.8" y="315.6" font-size="7.3" text-anchor="start" fill="#111" stroke="#111" stroke-width="0.1">low</text>
<text x="448.8" y="324.6" font-size="7.3" text-anchor="start" fill="#111" stroke="#111" stroke-width="0.1">high</text>
<text x="441.7" y="366.2" font-size="7.3" text-anchor="start" fill="#111" stroke="#111" stroke-width="0.1">Number at risk</text>
<text x="420.8" y="377.0" font-size="7.3" text-anchor="start" fill="#111" stroke="#111" stroke-width="0.1">low</text>
<text x="418.8" y="389.5" font-size="7.3" text-anchor="start" fill="#DF536B" stroke="#DF536B" stroke-width="0.1">high</text>
<text x="463.3" y="377.0" font-size="7.3" text-anchor="end" fill="#111" stroke="#111" stroke-width="0.1">2466</text>
<text x="489.0" y="377.0" font-size="7.3" text-anchor="end" fill="#111" stroke="#111" stroke-width="0.1">1384</text>
<text x="511.8" y="377.0" font-size="7.3" text-anchor="end" fill="#111" stroke="#111" stroke-width="0.1">518</text>
<text x="533.9" y="377.0" font-size="7.3" text-anchor="end" fill="#111" stroke="#111" stroke-width="0.1">133</text>
<text x="551.9" y="377.0" font-size="7.3" text-anchor="end" fill="#111" stroke="#111" stroke-width="0.1">17</text>
<text x="566.3" y="377.0" font-size="7.3" text-anchor="end" fill="#111" stroke="#111" stroke-width="0.1">1</text>
<text x="463.3" y="389.5" font-size="7.3" text-anchor="end" fill="#DF536B" stroke="#DF536B" stroke-width="0.1">2463</text>
<text x="489.0" y="389.5" font-size="7.3" text-anchor="end" fill="#DF536B" stroke="#DF536B" stroke-width="0.1">1499</text>
<text x="511.8" y="389.5" font-size="7.3" text-anchor="end" fill="#DF536B" stroke="#DF536B" stroke-width="0.1">618</text>
<text x="533.9" y="389.5" font-size="7.3" text-anchor="end" fill="#DF536B" stroke="#DF536B" stroke-width="0.1">113</text>
<text x="551.9" y="389.5" font-size="7.3" text-anchor="end" fill="#DF536B" stroke="#DF536B" stroke-width="0.1">10</text>
<text x="566.3" y="389.5" font-size="7.3" text-anchor="end" fill="#DF536B" stroke="#DF536B" stroke-width="0.1">2</text>
<text x="0.2" y="418.4" font-size="16.5" text-anchor="start" fill="#111" font-weight="bold">G</text>
<ellipse cx="65.9" cy="442.4" rx="33.5" ry="28.1" fill="none" stroke="#e2553f" stroke-width="0.8"/>
<ellipse cx="120.4" cy="442.4" rx="33.7" ry="28.1" fill="none" stroke="#333" stroke-width="0.8"/>
<text x="61.4" y="441.7" font-size="7" text-anchor="middle" fill="#111" stroke="#111" stroke-width="0.1">SIX2</text>
<text x="62.5" y="450.4" font-size="7" text-anchor="middle" fill="#111" stroke="#111" stroke-width="0.1">Co-IP MS</text>
<text x="124.0" y="441.7" font-size="7" text-anchor="middle" fill="#111" stroke="#111" stroke-width="0.1">E3 ubiquitin</text>
<text x="124.0" y="450.4" font-size="7" text-anchor="middle" fill="#111" stroke="#111" stroke-width="0.1">ligase</text>
<line x1="94.4" y1="458.4" x2="94.4" y2="492.5" stroke="#333" stroke-width="0.6"/>
<polygon points="92.9,491.5 95.9,491.5 94.4,494.6" fill="#333"/>
<text x="93.0" y="501.9" font-size="7" text-anchor="middle" fill="#111" stroke="#111" stroke-width="0.1">TRIM21</text>
<text x="201.5" y="418.6" font-size="16.5" text-anchor="start" fill="#111" font-weight="bold">H</text>
<text x="293.0" y="415.2" font-size="7.3" text-anchor="middle" fill="#111" stroke="#111" stroke-width="0.1">MDA-MB-231</text>
<line x1="222.2" y1="417.9" x2="351.3" y2="417.9" stroke="#777" stroke-width="0.8"/>
<text x="267.5" y="428.4" font-size="7.3" text-anchor="middle" fill="#111" stroke="#111" stroke-width="0.1">IP:SIX2</text>
<line x1="253.0" y1="432.0" x2="281.2" y2="432.0" stroke="#888" stroke-width="1"/>
<text x="337.0" y="428.4" font-size="7.3" text-anchor="middle" fill="#111" stroke="#111" stroke-width="0.1">IP:TRIM21</text>
<line x1="322.3" y1="432.0" x2="350.8" y2="432.0" stroke="#888" stroke-width="1"/>
<text x="234.0" y="442.5" font-size="7.2" text-anchor="middle" fill="#111" stroke="#111" stroke-width="0.1">Input</text>
<text x="256.9" y="442.5" font-size="7.2" text-anchor="middle" fill="#111" stroke="#111" stroke-width="0.1">IgG</text>
<text x="275.4" y="442.5" font-size="7.2" text-anchor="middle" fill="#111" stroke="#111" stroke-width="0.1">Ip</text>
<text x="305.5" y="442.5" font-size="7.2" text-anchor="middle" fill="#111" stroke="#111" stroke-width="0.1">Input</text>
<text x="326.7" y="442.5" font-size="7.2" text-anchor="middle" fill="#111" stroke="#111" stroke-width="0.1">IgG</text>
<text x="343.4" y="442.5" font-size="7.2" text-anchor="middle" fill="#111" stroke="#111" stroke-width="0.1">Ip</text>
<text x="351.3" y="447.2" font-size="7.2" text-anchor="start" fill="#111" stroke="#111" stroke-width="0.1">kDa</text>
<text x="352.8" y="455.3" font-size="7.2" text-anchor="start" fill="#111" stroke="#111" stroke-width="0.1">-54</text>
<text x="352.8" y="471.2" font-size="7.2" text-anchor="start" fill="#111" stroke="#111" stroke-width="0.1">-37</text>
<text x="219.0" y="454.8" font-size="7.2" text-anchor="end" fill="#111" stroke="#111" stroke-width="0.1">IB:TRIM21</text>
<text x="217.8" y="471.9" font-size="7.2" text-anchor="end" fill="#111" stroke="#111" stroke-width="0.1">IB: SIX2</text>
<rect x="222.2" y="447.3" width="60.6" height="10.8" fill="url(#gb)" stroke="#2a2a2a" stroke-width="0.9"/>
<rect x="224.3" y="451.4" width="18.0" height="3.2" rx="1.6" fill="#111" opacity="1" filter="url(#bl)"/>
<rect x="246.0" y="451.8" width="14.4" height="2.4" rx="1.2" fill="#999" opacity="0.5" filter="url(#bl)"/>
<rect x="263.0" y="448.7" width="17.5" height="8.2" rx="2.5" fill="#080505" opacity="1" filter="url(#bl)"/>
<rect x="222.2" y="463.4" width="60.6" height="10.2" fill="url(#gb)" stroke="#2a2a2a" stroke-width="0.9"/>
<rect x="226.5" y="468.1" width="13.7" height="2.2" rx="1.1" fill="#222" opacity="1" filter="url(#bl)"/>
<rect x="265.1" y="466.0" width="15.5" height="6.0" rx="2.5" fill="#080808" opacity="1" filter="url(#bl)"/>
<rect x="290.9" y="447.5" width="60.9" height="10.5" fill="url(#gb)" stroke="#2a2a2a" stroke-width="0.9"/>
<rect x="292.3" y="453.1" width="17.7" height="2.4" rx="1.2" fill="#111" opacity="1" filter="url(#bl)"/>
<rect x="333.7" y="448.8" width="14.1" height="8.4" rx="2.5" fill="#050505" opacity="1" filter="url(#bl)"/>
<rect x="290.9" y="463.3" width="60.9" height="10.0" fill="url(#gg)" stroke="#2a2a2a" stroke-width="0.9"/>
<rect x="294.0" y="465.1" width="18.6" height="7.2" rx="2.5" fill="#0a0a0a" opacity="1" filter="url(#bl)"/>
<rect x="336.7" y="466.7" width="12.8" height="2.6" rx="1.3" fill="#222" opacity="1" filter="url(#bl)"/>
<text x="493.0" y="414.4" font-size="7.3" text-anchor="middle" fill="#111" stroke="#111" stroke-width="0.1">MCF-7</text>
<line x1="425.2" y1="418.6" x2="554.5" y2="418.6" stroke="#777" stroke-width="0.8"/>
<text x="464.6" y="428.1" font-size="7.3" text-anchor="middle" fill="#111" stroke="#111" stroke-width="0.1">IP:SIX2</text>
<line x1="452.9" y1="431.8" x2="480.5" y2="431.8" stroke="#888" stroke-width="1"/>
<text x="531.9" y="428.3" font-size="7.3" text-anchor="middle" fill="#111" stroke="#111" stroke-width="0.1">IP:TRIM21</text>
<line x1="519.0" y1="432.0" x2="547.8" y2="432.0" stroke="#888" stroke-width="1"/>
<text x="440.0" y="442.2" font-size="7.2" text-anchor="middle" fill="#111" stroke="#111" stroke-width="0.1">Input</text>
<text x="458.5" y="442.2" font-size="7.2" text-anchor="middle" fill="#111" stroke="#111" stroke-width="0.1">IgG</text>
<text x="477.5" y="442.2" font-size="7.2" text-anchor="middle" fill="#111" stroke="#111" stroke-width="0.1">Ip</text>
<text x="499.5" y="442.2" font-size="7.2" text-anchor="middle" fill="#111" stroke="#111" stroke-width="0.1">Input</text>
<text x="524.3" y="442.2" font-size="7.2" text-anchor="middle" fill="#111" stroke="#111" stroke-width="0.1">IgG</text>
<text x="544.6" y="442.2" font-size="7.2" text-anchor="middle" fill="#111" stroke="#111" stroke-width="0.1">Ip</text>
<text x="554.1" y="448.2" font-size="7.2" text-anchor="start" fill="#111" stroke="#111" stroke-width="0.1">kDa</text>
<text x="555.5" y="457.7" font-size="7.2" text-anchor="start" fill="#111" stroke="#111" stroke-width="0.1">-54</text>
<text x="555.5" y="472.0" font-size="7.2" text-anchor="start" fill="#111" stroke="#111" stroke-width="0.1">-37</text>
<text x="422.5" y="454.9" font-size="7.2" text-anchor="end" fill="#111" stroke="#111" stroke-width="0.1">IB:TRIM21</text>
<text x="420.9" y="471.9" font-size="7.2" text-anchor="end" fill="#111" stroke="#111" stroke-width="0.1">IB: SIX2</text>
<rect x="425.2" y="447.4" width="59.1" height="10.5" fill="url(#gb)" stroke="#2a2a2a" stroke-width="0.9"/>
<rect x="429.1" y="449.3" width="17.1" height="3.8" rx="1.9" fill="#111" opacity="1" filter="url(#bl)"/>
<rect x="452.1" y="450.5" width="11.9" height="3.0" rx="1.5" fill="#999" opacity="0.6" filter="url(#bl)"/>
<rect x="469.5" y="448.5" width="13.3" height="6.0" rx="2.5" fill="#151515" opacity="1" filter="url(#bl)"/>
<rect x="425.2" y="463.5" width="59.1" height="10.0" fill="url(#gb)" stroke="#2a2a2a" stroke-width="0.9"/>
<rect x="430.4" y="466.5" width="13.0" height="3.3" rx="1.6" fill="#111" opacity="1" filter="url(#bl)"/>
<rect x="466.7" y="466.0" width="13.8" height="3.3" rx="1.6" fill="#151515" opacity="1" filter="url(#bl)"/>
<rect x="494.2" y="447.5" width="60.3" height="10.5" fill="url(#gb)" stroke="#2a2a2a" stroke-width="0.9"/>
<rect x="497.0" y="453.0" width="16.2" height="3.0" rx="1.5" fill="#151515" opacity="1" filter="url(#bl)"/>
<rect x="518.0" y="454.1" width="13.3" height="1.8" rx="0.9" fill="#aaa" opacity="0.6" filter="url(#bl)"/>
<rect x="536.0" y="448.1" width="16.2" height="8.6" rx="2.5" fill="#080505" opacity="1" filter="url(#bl)"/>
<rect x="494.2" y="463.7" width="60.3" height="9.6" fill="url(#gb)" stroke="#2a2a2a" stroke-width="0.9"/>
<rect x="496.1" y="464.8" width="18.1" height="6.5" rx="2.5" fill="#0a0a0a" opacity="1" filter="url(#bl)"/>
<rect x="537.0" y="466.6" width="12.4" height="2.8" rx="1.4" fill="#1a1a1a" opacity="1" filter="url(#bl)"/>
<text x="284.8" y="512.6" font-size="16.5" text-anchor="start" fill="#111" font-weight="bold">I</text>
<text x="460.6" y="497.3" font-size="7.2" text-anchor="middle" fill="#111" stroke="#111" stroke-width="0.1">HEK-293T</text>
<line x1="344.6" y1="501.4" x2="552.4" y2="501.4" stroke="#777" stroke-width="0.8"/>
<text x="366.8" y="511.1" font-size="7.2" text-anchor="middle" fill="#111" stroke="#111" stroke-width="0.1">IP:Flag</text>
<line x1="342.4" y1="515.1" x2="393.9" y2="515.1" stroke="#777" stroke-width="0.8"/>
<text x="427.7" y="511.3" font-size="7.2" text-anchor="middle" fill="#111" stroke="#111" stroke-width="0.1">IP:HA</text>
<line x1="402.0" y1="515.2" x2="453.4" y2="515.2" stroke="#777" stroke-width="0.8"/>
<text x="528.5" y="511.4" font-size="7.2" text-anchor="middle" fill="#111" stroke="#111" stroke-width="0.1">Input</text>
<line x1="502.0" y1="515.3" x2="552.9" y2="515.3" stroke="#777" stroke-width="0.8"/>
<text x="337.9" y="527.6" font-size="7.2" text-anchor="end" fill="#111" stroke="#111" stroke-width="0.1">Flag-SIX2</text>
<text x="337.9" y="543.9" font-size="7.2" text-anchor="end" fill="#111" stroke="#111" stroke-width="0.1">HA-TRIM21</text>
<text x="348.5" y="527.5" font-size="7" text-anchor="middle" fill="#111" stroke="#111" stroke-width="0.1">+</text>
<text x="366.8" y="527.5" font-size="7" text-anchor="middle" fill="#111" stroke="#111" stroke-width="0.1">–</text>
<text x="385.5" y="527.5" font-size="7" text-anchor="middle" fill="#111" stroke="#111" stroke-width="0.1">+</text>
<text x="410.1" y="527.5" font-size="7" text-anchor="middle" fill="#111" stroke="#111" stroke-width="0.1">+</text>
<text x="429.9" y="527.5" font-size="7" text-anchor="middle" fill="#111" stroke="#111" stroke-width="0.1">–</text>
<text x="446.0" y="527.5" font-size="7" text-anchor="middle" fill="#111" stroke="#111" stroke-width="0.1">+</text>
<text x="348.5" y="543.8" font-size="7" text-anchor="middle" fill="#111" stroke="#111" stroke-width="0.1">–</text>
<text x="366.8" y="543.8" font-size="7" text-anchor="middle" fill="#111" stroke="#111" stroke-width="0.1">+</text>
<text x="385.5" y="543.8" font-size="7" text-anchor="middle" fill="#111" stroke="#111" stroke-width="0.1">+</text>
<text x="410.1" y="543.8" font-size="7" text-anchor="middle" fill="#111" stroke="#111" stroke-width="0.1">–</text>
<text x="429.9" y="543.8" font-size="7" text-anchor="middle" fill="#111" stroke="#111" stroke-width="0.1">+</text>
<text x="446.0" y="543.8" font-size="7" text-anchor="middle" fill="#111" stroke="#111" stroke-width="0.1">+</text>
<text x="554.2" y="532.2" font-size="7.2" text-anchor="start" fill="#111" stroke="#111" stroke-width="0.1">kDa</text>
<text x="337.9" y="561.6" font-size="7.2" text-anchor="end" fill="#111" stroke="#111" stroke-width="0.1">Flag-SIX2</text>
<text x="337.9" y="583.6" font-size="7.2" text-anchor="end" fill="#111" stroke="#111" stroke-width="0.1">HA-TRIM21</text>
<rect x="341.3" y="549.7" width="53.3" height="17.5" fill="url(#gl)" stroke="#2a2a2a" stroke-width="0.9"/>
<rect x="346.0" y="554.5" width="12.6" height="7.4" rx="2.5" fill="#050505" opacity="1" filter="url(#bl)"/>
<rect x="362.0" y="555.5" width="10.0" height="5.0" rx="2.5" fill="#ccc" opacity="0.6" filter="url(#bl)"/>
<rect x="378.1" y="554.2" width="12.9" height="7.6" rx="2.5" fill="#050505" opacity="1" filter="url(#bl)"/>
<rect x="341.3" y="572.0" width="53.3" height="17.8" fill="url(#gb)" stroke="#2a2a2a" stroke-width="0.9"/>
<rect x="344.3" y="577.0" width="13.7" height="11.0" rx="2.5" fill="#cfcfcf" opacity="0.9" filter="url(#bl)"/>
<rect x="362.3" y="577.0" width="10.7" height="11.0" rx="2.5" fill="#c2c2c2" opacity="0.9" filter="url(#bl)"/>
<rect x="377.7" y="576.8" width="10.8" height="4.0" rx="2.0" fill="#151515" opacity="1" filter="url(#bl)"/>
<rect x="377.7" y="580.5" width="10.8" height="8.0" rx="2.5" fill="#9a9a9a" opacity="0.85" filter="url(#bl)"/>
<rect x="401.6" y="549.7" width="52.4" height="17.5" fill="url(#gl)" stroke="#2a2a2a" stroke-width="0.9"/>
<rect x="404.0" y="556.0" width="14.0" height="5.0" rx="2.5" fill="#c8c8c8" opacity="0.8" filter="url(#bl)"/>
<rect x="420.0" y="556.0" width="14.0" height="5.0" rx="2.5" fill="#d0d0d0" opacity="0.6" filter="url(#bl)"/>
<rect x="437.3" y="553.0" width="14.7" height="6.0" rx="2.5" fill="#8a8a8a" opacity="0.85" filter="url(#bl)"/>
<rect x="440.0" y="558.0" width="12.5" height="5.0" rx="2.5" fill="#303030" opacity="0.85" filter="url(#bl)"/>
<rect x="401.6" y="572.0" width="52.4" height="17.8" fill="url(#gb)" stroke="#2a2a2a" stroke-width="0.9"/>
<rect x="421.5" y="577.9" width="10.5" height="6.2" rx="2.5" fill="#080808" opacity="1" filter="url(#bl)"/>
<rect x="436.9" y="578.0" width="12.0" height="5.6" rx="2.5" fill="#0a0a0a" opacity="1" filter="url(#bl)"/>
<text x="499.5" y="543.9" font-size="7.2" text-anchor="end" fill="#111" stroke="#111" stroke-width="0.1">HA-TRIM21</text>
<text x="499.5" y="562.9" font-size="7.2" text-anchor="end" fill="#111" stroke="#111" stroke-width="0.1">Flag-SIX2</text>
<text x="499.5" y="585.9" font-size="7.2" text-anchor="end" fill="#111" stroke="#111" stroke-width="0.1">GAPDH</text>
<text x="555.3" y="543.6" font-size="7.2" text-anchor="start" fill="#111" stroke="#111" stroke-width="0.1">-54</text>
<text x="555.3" y="562.6" font-size="7.2" text-anchor="start" fill="#111" stroke="#111" stroke-width="0.1">-37</text>
<text x="555.3" y="583.8" font-size="7.2" text-anchor="start" fill="#111" stroke="#111" stroke-width="0.1">-36</text>
<rect x="502.1" y="534.3" width="52.9" height="13.5" fill="url(#gb)" stroke="#2a2a2a" stroke-width="0.9"/>
<rect x="523.7" y="536.6" width="10.9" height="4.8" rx="2.4" fill="#0a0a0a" opacity="1" filter="url(#bl)"/>
<rect x="539.3" y="535.9" width="12.3" height="6.0" rx="2.5" fill="#050505" opacity="1" filter="url(#bl)"/>
<rect x="502.1" y="551.8" width="52.9" height="16.4" fill="url(#gb)" stroke="#2a2a2a" stroke-width="0.9"/>
<rect x="504.5" y="554.3" width="15.8" height="11.0" rx="2.5" fill="#0a0a0a" opacity="1" filter="url(#bl)"/>
<rect x="537.2" y="555.1" width="14.4" height="9.0" rx="2.5" fill="#0a0a0a" opacity="1" filter="url(#bl)"/>
<rect x="502.1" y="572.6" width="52.9" height="17.2" fill="url(#gb)" stroke="#2a2a2a" stroke-width="0.9"/>
<rect x="504.0" y="577.9" width="15.5" height="5.4" rx="2.5" fill="#0a0a0a" opacity="1" filter="url(#bl)"/>
<rect x="521.0" y="577.9" width="14.5" height="5.4" rx="2.5" fill="#0a0a0a" opacity="1" filter="url(#bl)"/>
<rect x="537.0" y="577.9" width="14.5" height="5.4" rx="2.5" fill="#0a0a0a" opacity="1" filter="url(#bl)"/>
<text x="3.0" y="512.4" font-size="16.5" text-anchor="start" fill="#111" font-weight="bold">J</text>
<rect x="10.9" y="517.4" width="104.6" height="57.8" fill="#fff" stroke="#a0a0a0" stroke-width="1.0"/>
<rect x="130.6" y="516.9" width="120.7" height="58.6" fill="#fff" stroke="#a0a0a0" stroke-width="1.0"/>
<path d="M39.2,550.9 C35.6,544.7 39.1,553.0 43.9,554.8 C38.4,551.3 52.3,551.8 49.1,553.1" fill="none" stroke="#6cc850" stroke-width="0.55" stroke-linecap="round" opacity="1" clip-path="url(#cj1)"/>
<path d="M20.6,555.8 C15.6,557.5 10.7,553.0 15.9,560.0 C11.9,566.7 26.3,553.0 21.1,555.9 C23.6,551.8 33.7,559.1 27.5,556.5" fill="none" stroke="#6cc850" stroke-width="0.55" stroke-linecap="round" opacity="1" clip-path="url(#cj1)"/>
<path d="M53.6,556.9 C59.7,553.5 44.5,560.1 46.9,555.7 C49.8,549.6 46.1,554.3 48.1,557.0 C47.7,552.5 47.4,558.7 50.9,552.6" fill="none" stroke="#6cc850" stroke-width="0.55" stroke-linecap="round" opacity="1" clip-path="url(#cj1)"/>
<path d="M52.9,535.9 C51.0,537.0 39.2,533.6 46.1,540.0 C41.9,543.6 47.7,552.5 41.7,546.3 C42.0,550.2 34.0,547.8 39.5,544.3" fill="none" stroke="#6cc850" stroke-width="0.55" stroke-linecap="round" opacity="1" clip-path="url(#cj1)"/>
<path d="M46.5,555.5 C42.4,555.7 43.6,556.1 45.5,561.0 C39.8,563.6 39.7,565.2 42.4,561.0" fill="none" stroke="#6cc850" stroke-width="0.55" stroke-linecap="round" opacity="1" clip-path="url(#cj1)"/>
<path d="M39.3,550.1 C33.0,556.9 46.7,544.1 46.3,545.4 C50.8,544.8 41.5,540.5 42.6,546.7 C42.5,551.4 43.3,543.4 48.4,540.2" fill="none" stroke="#6cc850" stroke-width="0.55" stroke-linecap="round" opacity="1" clip-path="url(#cj1)"/>
<path d="M52.9,546.6 C48.0,551.4 44.5,545.0 47.4,545.7 C54.0,545.0 54.2,553.8 54.4,550.6 C53.0,545.7 52.4,554.5 54.1,547.7" fill="none" stroke="#6cc850" stroke-width="0.55" stroke-linecap="round" opacity="1" clip-path="url(#cj1)"/>
<path d="M53.3,546.5 C53.2,546.7 55.7,542.0 55.0,542.0 C53.0,543.2 42.4,543.4 48.9,546.1 C53.6,542.8 56.4,551.5 49.7,548.5" fill="none" stroke="#6cc850" stroke-width="0.55" stroke-linecap="round" opacity="1" clip-path="url(#cj1)"/>
<path d="M53.2,535.3 C53.8,531.8 56.7,527.9 54.3,528.4 C58.5,526.3 57.0,533.8 55.0,530.5" fill="none" stroke="#6cc850" stroke-width="0.55" stroke-linecap="round" opacity="1" clip-path="url(#cj1)"/>
<path d="M47.8,535.7 C54.4,542.0 53.2,538.7 53.0,538.3 C59.1,538.0 51.0,546.1 48.3,543.0" fill="none" stroke="#6cc850" stroke-width="0.55" stroke-linecap="round" opacity="1" clip-path="url(#cj1)"/>
<path d="M43.7,528.7 C48.8,525.5 47.9,525.2 40.9,529.4 C36.4,533.1 37.6,534.2 42.1,531.2 C37.4,536.7 43.5,544.5 48.9,537.9" fill="none" stroke="#6cc850" stroke-width="0.55" stroke-linecap="round" opacity="1" clip-path="url(#cj1)"/>
<path d="M33.3,543.4 C34.8,544.6 29.1,547.4 32.8,541.7 C29.7,540.4 20.4,545.0 25.8,540.4 C27.4,534.7 24.7,531.6 24.0,533.9" fill="none" stroke="#6cc850" stroke-width="0.55" stroke-linecap="round" opacity="1" clip-path="url(#cj1)"/>
<path d="M37.4,559.4 C39.4,557.5 31.3,562.3 36.3,561.0 C42.8,562.5 35.1,566.5 37.2,561.0" fill="none" stroke="#6cc850" stroke-width="0.55" stroke-linecap="round" opacity="1" clip-path="url(#cj1)"/>
<path d="M13.0,526.2 C13.9,525.2 19.7,531.4 13.0,531.5 C11.4,536.4 8.2,535.7 13.0,534.4" fill="none" stroke="#6cc850" stroke-width="0.55" stroke-linecap="round" opacity="1" clip-path="url(#cj1)"/>
<path d="M44.1,533.7 C50.9,533.6 39.9,530.9 42.9,531.2 C42.1,528.3 41.6,537.5 37.6,532.9 C34.5,539.0 34.8,529.8 30.8,533.4" fill="none" stroke="#6cc850" stroke-width="0.55" stroke-linecap="round" opacity="1" clip-path="url(#cj1)"/>
<path d="M24.2,528.0 C23.9,530.1 22.8,533.0 21.3,529.5 C18.6,530.0 13.7,530.3 16.0,533.2 C14.1,536.6 17.7,526.2 16.4,532.7" fill="none" stroke="#6cc850" stroke-width="0.55" stroke-linecap="round" opacity="1" clip-path="url(#cj1)"/>
<path d="M23.6,539.8 C16.8,543.7 28.0,541.5 29.0,540.4 C28.8,546.2 30.3,540.7 31.9,542.3" fill="none" stroke="#6cc850" stroke-width="0.55" stroke-linecap="round" opacity="1" clip-path="url(#cj1)"/>
<path d="M48.8,529.7 C46.0,522.7 52.2,534.4 48.3,533.3 C45.6,528.6 53.1,538.3 50.4,532.9 C49.3,533.5 48.7,536.7 55.0,533.4" fill="none" stroke="#6cc850" stroke-width="0.55" stroke-linecap="round" opacity="1" clip-path="url(#cj1)"/>
<path d="M24.2,525.3 C27.3,532.0 33.5,524.8 26.5,522.0 C22.6,524.0 26.5,529.8 20.2,526.8" fill="none" stroke="#6cc850" stroke-width="0.55" stroke-linecap="round" opacity="1" clip-path="url(#cj1)"/>
<path d="M18.7,533.4 C17.4,528.7 15.5,528.6 13.8,535.0 C7.8,528.8 14.1,536.7 13.0,533.3 C12.0,530.7 19.7,528.0 18.3,528.1" fill="none" stroke="#6cc850" stroke-width="0.55" stroke-linecap="round" opacity="1" clip-path="url(#cj1)"/>
<path d="M52.4,536.6 C53.4,539.1 44.4,539.9 47.4,533.7 C41.2,530.0 52.7,526.8 48.1,529.8" fill="none" stroke="#6cc850" stroke-width="0.55" stroke-linecap="round" opacity="1" clip-path="url(#cj1)"/>
<path d="M54.0,553.5 C48.8,546.8 51.1,553.0 53.3,552.0 C53.4,551.3 45.3,556.5 46.8,557.0 C47.2,557.6 51.7,556.4 53.3,551.6" fill="none" stroke="#6cc850" stroke-width="0.55" stroke-linecap="round" opacity="1" clip-path="url(#cj1)"/>
<path d="M52.7,538.7 C58.4,538.6 51.0,535.7 55.0,532.9 C52.1,538.9 56.1,541.8 53.3,537.6" fill="none" stroke="#6cc850" stroke-width="0.55" stroke-linecap="round" opacity="1" clip-path="url(#cj1)"/>
<path d="M28.9,550.2 C27.9,555.1 31.2,555.7 31.0,554.4 C29.5,548.8 25.4,553.6 32.0,557.8 C31.7,561.5 18.5,560.6 25.5,561.0" fill="none" stroke="#6cc850" stroke-width="0.55" stroke-linecap="round" opacity="1" clip-path="url(#cj1)"/>
<path d="M50.4,546.2 C46.1,548.3 41.9,550.8 47.9,545.6 C48.6,540.2 57.5,548.7 53.1,545.2 C58.6,543.0 58.5,536.1 55.0,538.7" fill="none" stroke="#6cc850" stroke-width="0.55" stroke-linecap="round" opacity="1" clip-path="url(#cj1)"/>
<path d="M15.5,522.8 C10.1,525.2 12.2,531.5 15.1,529.1 C10.9,522.4 14.5,518.5 18.3,524.4 C16.4,521.7 16.5,528.0 16.9,531.0" fill="none" stroke="#6cc850" stroke-width="0.55" stroke-linecap="round" opacity="1" clip-path="url(#cj1)"/>
<path d="M12,531 C16,545 24,555 33,560" fill="none" stroke="#39a02a" stroke-width="2.4" stroke-linecap="round" clip-path="url(#cj1)"/>
<path d="M13,527 C20,540 28,550 37,556" fill="none" stroke="#39a02a" stroke-width="1.6" stroke-linecap="round" clip-path="url(#cj1)"/>
<path d="M17,525 C24,535 31,545 40,551" fill="none" stroke="#39a02a" stroke-width="1.1" stroke-linecap="round" clip-path="url(#cj1)"/>
<path d="M22,549 C28,541 35,533 44,530" fill="none" stroke="#39a02a" stroke-width="1.8" stroke-linecap="round" clip-path="url(#cj1)"/>
<path d="M28,557 C33,548 40,540 50,537" fill="none" stroke="#39a02a" stroke-width="1.5" stroke-linecap="round" clip-path="url(#cj1)"/>
<path d="M25,527 C33,522 43,522 52,528" fill="none" stroke="#39a02a" stroke-width="1.3" stroke-linecap="round" clip-path="url(#cj1)"/>
<path d="M36,536 C42,531 48,531 53,536" fill="none" stroke="#39a02a" stroke-width="1.0" stroke-linecap="round" clip-path="url(#cj1)"/>
<path d="M14,538 C18,548 22,554 28,560" fill="none" stroke="#39a02a" stroke-width="1.4" stroke-linecap="round" clip-path="url(#cj1)"/>
<path d="M41.8,548.4 C38.9,543.8 45.7,547.4 44.6,545.2 C44.1,547.0 39.0,540.1 42.3,544.8" fill="none" stroke="#2f8c22" stroke-width="0.6" stroke-linecap="round" opacity="1" clip-path="url(#cj1)"/>
<path d="M45.8,552.5 C43.1,555.5 46.1,554.3 50.1,554.6 C50.1,557.4 47.5,559.4 52.0,556.1 C55.7,560.6 48.4,559.4 51.4,557.5" fill="none" stroke="#2f8c22" stroke-width="0.6" stroke-linecap="round" opacity="1" clip-path="url(#cj1)"/>
<path d="M38.3,530.4 C34.4,530.8 38.4,529.5 34.2,528.5 C29.4,528.9 37.6,526.4 37.8,525.7" fill="none" stroke="#2f8c22" stroke-width="0.6" stroke-linecap="round" opacity="1" clip-path="url(#cj1)"/>
<path d="M28.3,545.3 C27.8,548.5 29.7,539.5 32.4,543.3 C35.2,546.5 28.7,535.5 30.6,539.2" fill="none" stroke="#2f8c22" stroke-width="0.6" stroke-linecap="round" opacity="1" clip-path="url(#cj1)"/>
<path d="M17.1,532.3 C18.8,530.1 20.0,534.5 20.1,537.0 C23.9,540.9 17.9,542.7 22.1,540.0" fill="none" stroke="#2f8c22" stroke-width="0.6" stroke-linecap="round" opacity="1" clip-path="url(#cj1)"/>
<path d="M28.4,550.2 C31.0,550.9 31.8,554.9 32.4,551.7 C34.7,553.7 31.6,559.4 34.0,556.2" fill="none" stroke="#2f8c22" stroke-width="0.6" stroke-linecap="round" opacity="1" clip-path="url(#cj1)"/>
<path d="M28.5,528.4 C28.5,526.7 21.9,525.2 26.6,524.8 C22.8,529.5 32.3,523.4 29.0,524.0" fill="none" stroke="#2f8c22" stroke-width="0.6" stroke-linecap="round" opacity="1" clip-path="url(#cj1)"/>
<path d="M23.8,556.3 C22.4,554.7 16.2,556.5 21.1,555.6 C17.1,555.9 21.1,560.0 24.4,557.9" fill="none" stroke="#2f8c22" stroke-width="0.6" stroke-linecap="round" opacity="1" clip-path="url(#cj1)"/>
<path d="M55.6,523.3 L54.4,524.1 L54.0,524.6 L54.7,524.7 L56.0,524.5 L57.4,524.3 L58.0,524.4 L57.6,525.0 L56.5,525.8 L55.4,526.6 L55.0,527.1 L55.6,527.2 L57.0,527.0 L58.4,526.8 L59.0,526.9 L58.6,527.4 L57.5,528.2 L56.4,529.0 L56.0,529.6 L56.6,529.7 L58.0,529.5 L59.3,529.3 L60.0,529.4 L59.6,529.9 L58.4,530.7 " fill="none" stroke="#3fbcb8" stroke-width="1.6" stroke-linejoin="round" opacity="1" clip-path="url(#cj1)"/>
<path d="M63.6,520.2 L62.6,521.3 L62.4,521.9 L63.0,521.9 L64.4,521.5 L65.7,521.1 L66.4,521.1 L66.1,521.7 L65.2,522.7 L64.3,523.8 L64.0,524.4 L64.7,524.4 L66.0,524.0 L67.3,523.6 L68.0,523.6 L67.7,524.2 L66.8,525.3 L65.9,526.3 L65.6,526.9 L66.3,526.9 L67.6,526.5 L69.0,526.1 L69.6,526.1 L69.4,526.7 L68.4,527.8 " fill="none" stroke="#3fbcb8" stroke-width="1.6" stroke-linejoin="round" opacity="1" clip-path="url(#cj1)"/>
<path d="M72.9,523.1 L71.8,523.8 L71.4,524.3 L72.0,524.4 L73.3,524.4 L74.6,524.4 L75.2,524.6 L74.8,525.1 L73.6,525.7 L72.5,526.4 L72.1,526.8 L72.7,527.0 L74.0,527.0 L75.3,527.0 L75.9,527.2 L75.5,527.6 L74.4,528.3 L73.2,528.9 L72.8,529.4 L73.4,529.6 L74.7,529.6 L76.0,529.6 L76.6,529.7 L76.2,530.2 L75.1,530.9 " fill="none" stroke="#3fbcb8" stroke-width="1.6" stroke-linejoin="round" opacity="1" clip-path="url(#cj1)"/>
<path d="M59.2,535.1 L57.8,535.7 L57.3,536.2 L58.0,536.5 L59.4,536.7 L60.9,536.9 L61.5,537.2 L61.0,537.7 L59.7,538.4 L58.4,539.0 L57.9,539.5 L58.5,539.8 L60.0,540.0 L61.5,540.2 L62.1,540.5 L61.6,541.0 L60.3,541.6 L59.0,542.3 L58.5,542.8 L59.1,543.1 L60.6,543.3 L62.0,543.5 L62.7,543.8 L62.2,544.3 L60.8,544.9 " fill="none" stroke="#3fbcb8" stroke-width="1.6" stroke-linejoin="round" opacity="1" clip-path="url(#cj1)"/>
<path d="M66.2,538.3 L65.0,539.3 L64.5,539.9 L65.3,540.0 L66.8,539.9 L68.3,539.7 L69.1,539.9 L68.6,540.5 L67.4,541.4 L66.2,542.4 L65.7,543.0 L66.5,543.1 L68.0,543.0 L69.5,542.9 L70.3,543.0 L69.8,543.6 L68.6,544.6 L67.4,545.5 L66.9,546.1 L67.7,546.3 L69.2,546.1 L70.7,546.0 L71.5,546.1 L71.0,546.7 L69.8,547.7 " fill="none" stroke="#3fbcb8" stroke-width="1.6" stroke-linejoin="round" opacity="1" clip-path="url(#cj1)"/>
<path d="M74.6,536.2 L73.6,537.3 L73.3,537.9 L74.0,537.9 L75.4,537.5 L76.8,537.0 L77.5,537.0 L77.2,537.7 L76.2,538.7 L75.2,539.8 L74.9,540.4 L75.6,540.4 L77.0,540.0 L78.4,539.6 L79.1,539.6 L78.8,540.2 L77.8,541.3 L76.8,542.3 L76.5,543.0 L77.2,543.0 L78.6,542.5 L80.0,542.1 L80.7,542.1 L80.4,542.7 L79.4,543.8 " fill="none" stroke="#3fbcb8" stroke-width="1.6" stroke-linejoin="round" opacity="1" clip-path="url(#cj1)"/>
<path d="M82.6,547.8 L83.9,548.2 L84.6,548.2 L84.3,547.6 L83.4,546.5 L82.5,545.5 L82.2,544.9 L82.9,544.9 L84.2,545.3 L85.5,545.7 L86.2,545.7 L85.9,545.0 L85.0,544.0 L84.1,543.0 L83.8,542.3 L84.5,542.3 L85.8,542.7 L87.1,543.1 L87.8,543.1 L87.5,542.5 L86.6,541.5 L85.7,540.4 L85.4,539.8 L86.1,539.8 L87.4,540.2 " fill="none" stroke="#3fbcb8" stroke-width="1.6" stroke-linejoin="round" opacity="1" clip-path="url(#cj1)"/>
<path d="M89.4,554.2 L90.8,554.3 L91.4,554.2 L91.0,553.6 L89.9,552.8 L88.8,552.0 L88.4,551.4 L89.1,551.3 L90.5,551.4 L91.8,551.5 L92.5,551.4 L92.1,550.8 L91.0,550.0 L89.9,549.2 L89.5,548.6 L90.2,548.5 L91.5,548.6 L92.9,548.7 L93.6,548.6 L93.2,548.0 L92.1,547.2 L91.0,546.4 L90.6,545.8 L91.2,545.7 L92.6,545.8 " fill="none" stroke="#3fbcb8" stroke-width="1.6" stroke-linejoin="round" opacity="1" clip-path="url(#cj1)"/>
<path d="M60.8,552.7 L59.6,553.4 L59.2,553.9 L59.8,554.1 L61.2,554.1 L62.6,554.1 L63.2,554.3 L62.8,554.8 L61.6,555.6 L60.4,556.3 L60.0,556.8 L60.6,557.0 L62.0,557.0 L63.4,557.0 L64.0,557.2 L63.6,557.7 L62.4,558.4 L61.2,559.2 L60.8,559.7 L61.4,559.9 L62.8,559.9 L64.2,559.9 L64.8,560.1 L64.4,560.6 L63.2,561.3 " fill="none" stroke="#3fbcb8" stroke-width="1.6" stroke-linejoin="round" opacity="1" clip-path="url(#cj1)"/>
<path d="M69.2,558.1 L67.8,558.7 L67.3,559.2 L68.0,559.5 L69.4,559.7 L70.9,559.9 L71.5,560.2 L71.0,560.7 L69.7,561.4 L68.4,562.0 L67.9,562.5 L68.5,562.8 L70.0,563.0 L71.5,563.2 L72.1,563.5 L71.6,564.0 L70.3,564.6 L69.0,565.3 L68.5,565.8 L69.1,566.1 L70.6,566.3 L72.0,566.5 L72.7,566.8 L72.2,567.3 L70.8,567.9 " fill="none" stroke="#3fbcb8" stroke-width="1.6" stroke-linejoin="round" opacity="1" clip-path="url(#cj1)"/>
<path d="M76.0,552.0 L74.9,552.9 L74.6,553.5 L75.3,553.6 L76.6,553.3 L78.0,553.1 L78.7,553.1 L78.3,553.7 L77.3,554.7 L76.3,555.6 L76.0,556.2 L76.6,556.3 L78.0,556.0 L79.4,555.7 L80.0,555.8 L79.7,556.4 L78.7,557.3 L77.7,558.3 L77.3,558.9 L78.0,558.9 L79.4,558.7 L80.7,558.4 L81.4,558.5 L81.1,559.1 L80.0,560.0 " fill="none" stroke="#3fbcb8" stroke-width="1.6" stroke-linejoin="round" opacity="1" clip-path="url(#cj1)"/>
<path d="M93.7,534.7 L92.8,535.6 L92.5,536.2 L93.1,536.4 L94.4,536.4 L95.6,536.3 L96.3,536.6 L96.0,537.2 L95.0,538.0 L94.0,538.8 L93.7,539.4 L94.4,539.7 L95.6,539.6 L96.9,539.6 L97.5,539.8 L97.2,540.4 L96.3,541.3 " fill="none" stroke="#3fbcb8" stroke-width="1.6" stroke-linejoin="round" opacity="1" clip-path="url(#cj1)"/>
<path d="M54.8,544.5 L53.6,545.0 L53.1,545.5 L53.6,545.9 L54.9,546.3 L56.1,546.6 L56.6,547.0 L56.2,547.5 L55.0,548.0 L53.8,548.5 L53.4,549.0 L53.9,549.4 L55.1,549.7 L56.4,550.1 L56.9,550.5 L56.4,551.0 L55.2,551.5 " fill="none" stroke="#3fbcb8" stroke-width="1.6" stroke-linejoin="round" opacity="1" clip-path="url(#cj1)"/>
<path d="M80.8,529.6 L80.7,530.9 L80.9,531.5 L81.5,531.3 L82.4,530.3 L83.3,529.4 L83.9,529.1 L84.1,529.7 L84.0,531.0 L83.9,532.3 L84.1,532.9 L84.7,532.6 L85.6,531.7 L86.5,530.7 L87.1,530.5 L87.3,531.1 L87.2,532.4 " fill="none" stroke="#3fbcb8" stroke-width="1.6" stroke-linejoin="round" opacity="1" clip-path="url(#cj1)"/>
<path d="M72.5,568.9 C77.5,568.5 67.2,566.0 67.9,566.7 C68.3,572.4 72.3,567.2 71.2,572.0 C65.8,577.7 69.3,571.9 74.9,571.0" fill="none" stroke="#4cc4c0" stroke-width="0.5" stroke-linecap="round" opacity="1" clip-path="url(#cj1)"/>
<path d="M74.2,566.1 C78.0,563.7 73.9,565.7 73.7,562.5 C77.4,566.3 79.1,565.8 77.2,560.9 C75.4,556.6 68.8,559.4 71.9,560.8" fill="none" stroke="#4cc4c0" stroke-width="0.5" stroke-linecap="round" opacity="1" clip-path="url(#cj1)"/>
<path d="M56.3,541.8 C59.9,539.7 63.3,542.6 61.1,538.2 C59.6,532.4 62.7,542.9 62.6,541.8 C60.4,536.2 56.6,539.1 58.8,540.5" fill="none" stroke="#4cc4c0" stroke-width="0.5" stroke-linecap="round" opacity="1" clip-path="url(#cj1)"/>
<path d="M73.9,557.2 C74.9,562.4 74.0,555.4 73.3,560.6 C78.8,554.9 72.3,556.1 69.1,559.6 C72.3,560.9 70.8,559.2 66.5,553.9" fill="none" stroke="#4cc4c0" stroke-width="0.5" stroke-linecap="round" opacity="1" clip-path="url(#cj1)"/>
<path d="M71.0,570.4 C65.9,573.5 70.3,577.5 68.3,572.0 C72.4,574.9 74.4,568.5 73.1,572.0" fill="none" stroke="#4cc4c0" stroke-width="0.5" stroke-linecap="round" opacity="1" clip-path="url(#cj1)"/>
<path d="M75.8,566.8 C74.9,572.4 75.9,568.8 73.9,570.2 C70.4,572.4 74.7,568.5 76.9,570.6" fill="none" stroke="#4cc4c0" stroke-width="0.5" stroke-linecap="round" opacity="1" clip-path="url(#cj1)"/>
<path d="M90.8,566.5 C88.3,570.0 91.3,556.6 87.8,561.7 C86.7,557.9 95.0,557.4 93.2,556.6 C93.7,555.5 91.5,558.1 94.7,558.3" fill="none" stroke="#4cc4c0" stroke-width="0.5" stroke-linecap="round" opacity="1" clip-path="url(#cj1)"/>
<path d="M79.4,534.2 C85.0,530.5 71.2,530.9 76.8,535.5 C73.0,531.8 78.7,538.5 77.5,536.7 C72.3,536.5 83.8,545.0 79.8,539.5" fill="none" stroke="#4cc4c0" stroke-width="0.5" stroke-linecap="round" opacity="1" clip-path="url(#cj1)"/>
<path d="M66.6,564.5 C69.0,568.6 71.5,556.5 71.8,561.3 C66.9,557.1 69.5,552.4 68.1,557.1 C71.9,560.8 73.7,565.1 71.2,560.0" fill="none" stroke="#4cc4c0" stroke-width="0.5" stroke-linecap="round" opacity="1" clip-path="url(#cj1)"/>
<path d="M96.0,553.3 C92.4,551.1 90.5,561.7 94.4,557.0 C91.4,562.3 97.6,554.3 98.0,560.2" fill="none" stroke="#4cc4c0" stroke-width="0.5" stroke-linecap="round" opacity="1" clip-path="url(#cj1)"/>
<path d="M97.1,570.1 C102.6,575.4 92.9,573.2 98.0,570.1 C93.4,569.8 96.2,570.4 98.0,567.6" fill="none" stroke="#4cc4c0" stroke-width="0.5" stroke-linecap="round" opacity="1" clip-path="url(#cj1)"/>
<path d="M94.2,541.1 C97.4,536.2 93.3,541.7 98.0,542.8 C97.2,539.5 103.8,534.8 98.0,537.6 C103.6,538.2 97.2,529.5 98.0,533.3" fill="none" stroke="#4cc4c0" stroke-width="0.5" stroke-linecap="round" opacity="1" clip-path="url(#cj1)"/>
<path d="M90.8,564.8 C94.5,558.8 89.1,561.4 85.9,563.0 C85.4,561.6 80.3,554.7 80.1,560.1" fill="none" stroke="#4cc4c0" stroke-width="0.5" stroke-linecap="round" opacity="1" clip-path="url(#cj1)"/>
<path d="M62.1,570.7 C67.5,571.9 60.3,570.6 56.2,570.9 C59.5,570.9 56.3,572.1 52.0,566.9 C53.0,563.5 53.0,571.0 53.9,568.3" fill="none" stroke="#4cc4c0" stroke-width="0.5" stroke-linecap="round" opacity="1" clip-path="url(#cj1)"/>
<rect x="56.3" y="535.1" width="20.3" height="17.7" fill="none" stroke="#e04a30" stroke-width="0.8"/>
<line x1="76.6" y1="535.1" x2="130.6" y2="516.9" stroke="#e0553a" stroke-width="0.7"/>
<line x1="76.6" y1="552.8" x2="130.6" y2="575.5" stroke="#e0553a" stroke-width="0.7"/>
<text x="100.5" y="552.5" font-size="7.2" text-anchor="middle" fill="#3ca8d8" stroke="#3ca8d8" stroke-width="0.1">SIX2</text>
<text x="37.6" y="567.3" font-size="7.2" text-anchor="middle" fill="#3d9c3a" stroke="#3d9c3a" stroke-width="0.1">TRIM21</text>
<path d="M152,517 C160,521 168,523 176,520 L178,517 Z" fill="#8fd27e" clip-path="url(#cj2)"/>
<path d="M183.2,564.1 C195.2,570.3 202.6,552.8 193.2,561.2 C204.5,573.1 188.2,557.5 195.0,559.3 C189.9,563.3 180.5,550.7 189.5,558.6" fill="none" stroke="#8ad27a" stroke-width="1.0" stroke-linecap="round" opacity="1" clip-path="url(#cj2)"/>
<path d="M160.8,522.1 C152.4,525.7 155.6,519.8 149.7,520.0 C148.9,509.8 142.1,521.8 145.3,519.0 C135.4,510.1 137.4,522.5 133.7,526.5" fill="none" stroke="#8ad27a" stroke-width="1.0" stroke-linecap="round" opacity="1" clip-path="url(#cj2)"/>
<path d="M145.5,534.5 C143.1,529.7 150.1,526.1 140.3,525.0 C151.5,516.4 127.4,522.2 139.0,533.9" fill="none" stroke="#8ad27a" stroke-width="1.0" stroke-linecap="round" opacity="1" clip-path="url(#cj2)"/>
<path d="M156.3,531.3 C154.3,531.4 147.1,544.8 144.5,537.8 C133.4,535.1 130.1,526.3 133.8,537.8" fill="none" stroke="#8ad27a" stroke-width="1.0" stroke-linecap="round" opacity="1" clip-path="url(#cj2)"/>
<path d="M150.8,543.2 C151.5,548.3 171.4,550.9 161.0,540.1 C153.0,550.5 162.5,534.1 172.7,535.3" fill="none" stroke="#8ad27a" stroke-width="1.0" stroke-linecap="round" opacity="1" clip-path="url(#cj2)"/>
<path d="M178.4,547.6 C186.0,544.6 166.6,546.9 168.7,547.9 C170.3,549.5 147.3,541.8 158.3,536.0 C155.2,532.2 156.6,544.9 149.1,545.3" fill="none" stroke="#8ad27a" stroke-width="1.0" stroke-linecap="round" opacity="1" clip-path="url(#cj2)"/>
<path d="M141.1,525.0 C138.4,528.1 142.9,522.3 149.0,528.0 C158.5,520.2 149.3,515.8 158.0,526.5 C146.2,515.5 171.5,527.8 163.8,528.0" fill="none" stroke="#8ad27a" stroke-width="1.0" stroke-linecap="round" opacity="1" clip-path="url(#cj2)"/>
<path d="M186.9,520.2 C189.6,522.9 171.0,536.3 177.7,525.5 C182.1,515.8 158.0,517.0 168.4,518.0 C173.7,507.7 175.4,535.7 171.9,527.4" fill="none" stroke="#8ad27a" stroke-width="1.0" stroke-linecap="round" opacity="1" clip-path="url(#cj2)"/>
<path d="M139.6,560.3 C148.7,556.0 142.3,555.4 138.5,555.4 C149.1,551.0 138.3,558.2 135.6,559.2 C139.0,557.7 132.4,568.5 132.0,571.0" fill="none" stroke="#8ad27a" stroke-width="1.0" stroke-linecap="round" opacity="1" clip-path="url(#cj2)"/>
<path d="M144.4,569.2 C146.1,579.1 140.4,562.4 148.9,568.0 C158.5,569.3 152.6,566.9 148.7,568.8" fill="none" stroke="#8ad27a" stroke-width="1.0" stroke-linecap="round" opacity="1" clip-path="url(#cj2)"/>
<path d="M181.4,564.8 C179.6,573.1 184.6,557.2 184.2,557.5 C191.7,562.1 179.9,537.9 189.2,547.6 C195.4,539.9 201.6,543.5 195.0,542.4" fill="none" stroke="#8ad27a" stroke-width="1.0" stroke-linecap="round" opacity="1" clip-path="url(#cj2)"/>
<path d="M142.8,536.7 C152.0,532.2 128.3,541.4 133.2,545.3 C122.8,535.0 134.2,533.4 145.2,543.1 C143.0,542.2 140.6,552.3 150.9,554.1" fill="none" stroke="#8ad27a" stroke-width="1.0" stroke-linecap="round" opacity="1" clip-path="url(#cj2)"/>
<path d="M191.2,548.3 C187.9,538.1 192.1,536.1 195.0,544.1 C185.3,547.8 192.8,544.0 188.9,546.8" fill="none" stroke="#8ad27a" stroke-width="1.0" stroke-linecap="round" opacity="1" clip-path="url(#cj2)"/>
<path d="M139.2,535.2 C132.3,535.5 160.6,530.6 150.6,533.4 C146.4,540.9 154.5,534.8 153.8,543.5 C153.0,542.1 153.1,555.8 143.1,554.0" fill="none" stroke="#8ad27a" stroke-width="1.0" stroke-linecap="round" opacity="1" clip-path="url(#cj2)"/>
<ellipse cx="138" cy="563" rx="4" ry="5" fill="none" stroke="#8ad27a" stroke-width="1.8" clip-path="url(#cj2)"/>
<ellipse cx="139" cy="547" rx="2.5" ry="3" fill="none" stroke="#8ad27a" stroke-width="1.4" clip-path="url(#cj2)"/>
<path d="M170,575 C172,562 178,550 186,543 C194,536 204,536 210,542 C216,550 214,562 212,575 Z" fill="#84d9d1" clip-path="url(#cj2)"/>
<path d="M186,520 C194,524 202,528 206,536" fill="none" stroke="#84d9d1" stroke-width="4" stroke-linecap="round" clip-path="url(#cj2)"/>
<path d="M206,519 C214,522 222,520 228,524" fill="none" stroke="#84d9d1" stroke-width="3.5" stroke-linecap="round" clip-path="url(#cj2)"/>
<path d="M176,536 C184,531 192,530 198,536" fill="none" stroke="#84d9d1" stroke-width="4" stroke-linecap="round" clip-path="url(#cj2)"/>
<path d="M214,548 C220,546 222,552 218,557" fill="none" stroke="#84d9d1" stroke-width="3" stroke-linecap="round" clip-path="url(#cj2)"/>
<path d="M234,540 C240,536 246,538 248,544 C250,550 244,556 238,552" fill="none" stroke="#84d9d1" stroke-width="2.2" stroke-linecap="round" clip-path="url(#cj2)"/>
<path d="M240,556 C246,552 252,556 250,564 C248,570 242,570 238,566" fill="none" stroke="#84d9d1" stroke-width="2.2" stroke-linecap="round" clip-path="url(#cj2)"/>
<path d="M238,526 C244,524 250,528 252,534" fill="none" stroke="#84d9d1" stroke-width="2" stroke-linecap="round" clip-path="url(#cj2)"/>
<path d="M222,527 C228,532 232,538 234,544" fill="none" stroke="#84d9d1" stroke-width="1.2" stroke-linecap="round" clip-path="url(#cj2)"/>
<path d="M236,566 C240,572 246,574 250,572" fill="none" stroke="#84d9d1" stroke-width="1.5" stroke-linecap="round" clip-path="url(#cj2)"/>
<path d="M184.3,543.2 L184.0,545.7 L184.2,546.9 L185.0,546.0 L186.2,543.8 L187.4,541.6 L188.2,540.8 L188.3,541.9 L188.1,544.4 L187.8,546.9 L188.0,548.0 L188.8,547.2 L190.0,545.0 L191.2,542.8 L192.0,542.0 L192.2,543.1 L191.9,545.6 L191.7,548.1 L191.8,549.2 L192.6,548.4 L193.8,546.2 L195.0,544.0 L195.8,543.1 L196.0,544.3 L195.7,546.8 " fill="none" stroke="#84d9d1" stroke-width="2.6" stroke-linejoin="round" opacity="1" clip-path="url(#cj2)"/>
<path d="M179.3,567.1 L180.6,569.3 L181.5,570.1 L181.7,568.9 L181.5,566.4 L181.4,563.8 L181.6,562.7 L182.5,563.5 L183.8,565.7 L185.1,567.9 L185.9,568.7 L186.2,567.5 L186.0,565.0 L185.8,562.5 L186.1,561.3 L186.9,562.1 L188.2,564.3 L189.5,566.5 L190.4,567.3 L190.6,566.2 L190.5,563.6 L190.3,561.1 L190.5,559.9 L191.4,560.7 L192.7,562.9 " fill="none" stroke="#84d9d1" stroke-width="2.6" stroke-linejoin="round" opacity="1" clip-path="url(#cj2)"/>
<path d="M198.5,523.7 L198.3,525.9 L198.7,527.0 L199.7,526.5 L201.2,524.8 L202.8,523.2 L203.8,522.7 L204.1,523.8 L204.0,526.0 L203.9,528.2 L204.2,529.3 L205.2,528.8 L206.8,527.2 L208.3,525.5 L209.3,525.0 L209.7,526.1 L209.5,528.3 " fill="none" stroke="#84d9d1" stroke-width="2.6" stroke-linejoin="round" opacity="1" clip-path="url(#cj2)"/>
<path d="M194.0,569.4 L194.6,571.6 L195.2,572.5 L196.1,571.7 L197.0,569.7 L198.0,567.7 L198.8,566.9 L199.5,567.8 L200.0,570.0 L200.5,572.2 L201.2,573.1 L202.0,572.3 L203.0,570.3 L203.9,568.3 L204.8,567.5 L205.4,568.4 L206.0,570.6 " fill="none" stroke="#84d9d1" stroke-width="2.6" stroke-linejoin="round" opacity="1" clip-path="url(#cj2)"/>
<path d="M204.8,547.7 L203.2,548.7 L202.7,549.4 L203.5,549.8 L205.4,549.8 L207.3,549.9 L208.1,550.2 L207.6,551.0 L206.0,552.0 L204.4,553.0 L203.9,553.8 L204.7,554.1 L206.6,554.2 L208.5,554.2 L209.3,554.6 L208.8,555.3 L207.2,556.3 " fill="none" stroke="#84d9d1" stroke-width="2.6" stroke-linejoin="round" opacity="1" clip-path="url(#cj2)"/>
<path d="M203.5,533.5 C206.9,527.1 204.4,531.3 202.8,531.9 C201.9,527.7 206.0,538.5 210.0,536.2 C209.4,539.1 218.4,532.1 213.5,532.4" fill="none" stroke="#6cc8c0" stroke-width="0.8" stroke-linecap="round" opacity="1" clip-path="url(#cj2)"/>
<path d="M192.0,568.3 C192.9,563.6 187.5,570.3 195.1,569.0 C201.1,569.4 196.5,576.2 194.8,574.5 C195.2,571.2 185.7,575.5 187.8,571.1" fill="none" stroke="#6cc8c0" stroke-width="0.8" stroke-linecap="round" opacity="1" clip-path="url(#cj2)"/>
<path d="M191.5,528.3 C188.5,533.9 186.1,534.1 183.5,535.4 C181.0,539.1 189.0,541.6 188.9,538.2" fill="none" stroke="#6cc8c0" stroke-width="0.8" stroke-linecap="round" opacity="1" clip-path="url(#cj2)"/>
<path d="M210.0,563.2 C210.6,562.9 210.7,563.6 211.3,565.6 C218.8,569.4 201.6,552.4 206.9,557.6" fill="none" stroke="#6cc8c0" stroke-width="0.8" stroke-linecap="round" opacity="1" clip-path="url(#cj2)"/>
<path d="M203.9,555.6 C206.2,551.3 202.7,545.9 206.3,553.8 C210.2,553.8 207.8,552.0 208.8,555.1 C210.4,559.2 211.7,556.0 212.6,553.0" fill="none" stroke="#6cc8c0" stroke-width="0.8" stroke-linecap="round" opacity="1" clip-path="url(#cj2)"/>
<path d="M178.5,532.1 C170.7,536.4 168.7,524.3 175.0,525.0 C174.6,525.4 167.4,534.6 175.0,529.9" fill="none" stroke="#6cc8c0" stroke-width="0.8" stroke-linecap="round" opacity="1" clip-path="url(#cj2)"/>
<line x1="183.4" y1="550.9" x2="185.4" y2="547.5" stroke="#e03030" stroke-width="1.4" stroke-linecap="round" clip-path="url(#cj2)"/>
<line x1="188.6" y1="560.1" x2="189.8" y2="564.0" stroke="#3cbf2c" stroke-width="1.4" stroke-linecap="round" clip-path="url(#cj2)"/>
<line x1="191.6" y1="534.1" x2="194.7" y2="535.4" stroke="#52d03e" stroke-width="1.4" stroke-linecap="round" clip-path="url(#cj2)"/>
<line x1="174.8" y1="561.5" x2="176.4" y2="564.6" stroke="#52d03e" stroke-width="1.4" stroke-linecap="round" clip-path="url(#cj2)"/>
<line x1="170.9" y1="538.0" x2="170.4" y2="534.6" stroke="#52d03e" stroke-width="1.4" stroke-linecap="round" clip-path="url(#cj2)"/>
<line x1="183.6" y1="530.6" x2="181.3" y2="532.6" stroke="#52d03e" stroke-width="1.4" stroke-linecap="round" clip-path="url(#cj2)"/>
<line x1="169.9" y1="544.0" x2="167.7" y2="545.4" stroke="#3cbf2c" stroke-width="1.4" stroke-linecap="round" clip-path="url(#cj2)"/>
<line x1="174.4" y1="534.1" x2="172.7" y2="529.8" stroke="#52d03e" stroke-width="1.4" stroke-linecap="round" clip-path="url(#cj2)"/>
<line x1="183.2" y1="560.8" x2="187.1" y2="558.6" stroke="#3cbf2c" stroke-width="1.4" stroke-linecap="round" clip-path="url(#cj2)"/>
<line x1="185.5" y1="562.0" x2="181.3" y2="560.3" stroke="#e03030" stroke-width="1.4" stroke-linecap="round" clip-path="url(#cj2)"/>
<line x1="171.4" y1="533.6" x2="169.9" y2="536.4" stroke="#e03030" stroke-width="1.4" stroke-linecap="round" clip-path="url(#cj2)"/>
<line x1="187.1" y1="527.8" x2="189.2" y2="523.4" stroke="#52d03e" stroke-width="1.4" stroke-linecap="round" clip-path="url(#cj2)"/>
<line x1="168.5" y1="529.8" x2="165.8" y2="527.7" stroke="#52d03e" stroke-width="1.4" stroke-linecap="round" clip-path="url(#cj2)"/>
<line x1="178.2" y1="533.3" x2="174.1" y2="532.1" stroke="#52d03e" stroke-width="1.4" stroke-linecap="round" clip-path="url(#cj2)"/>
<line x1="182.5" y1="554.0" x2="178.0" y2="555.0" stroke="#52d03e" stroke-width="1.4" stroke-linecap="round" clip-path="url(#cj2)"/>
<line x1="181.9" y1="561.4" x2="178.5" y2="561.7" stroke="#52d03e" stroke-width="1.4" stroke-linecap="round" clip-path="url(#cj2)"/>
<line x1="181.7" y1="540.8" x2="184.1" y2="538.7" stroke="#3a4ad8" stroke-width="1.4" stroke-linecap="round" clip-path="url(#cj2)"/>
<line x1="171.7" y1="562.7" x2="168.7" y2="560.3" stroke="#52d03e" stroke-width="1.4" stroke-linecap="round" clip-path="url(#cj2)"/>
<line x1="169.5" y1="548.4" x2="172.1" y2="548.0" stroke="#3cbf2c" stroke-width="1.4" stroke-linecap="round" clip-path="url(#cj2)"/>
<line x1="165.9" y1="558.7" x2="169.4" y2="560.3" stroke="#52d03e" stroke-width="1.4" stroke-linecap="round" clip-path="url(#cj2)"/>
<line x1="158.1" y1="552.2" x2="157.0" y2="554.7" stroke="#52d03e" stroke-width="1.4" stroke-linecap="round" clip-path="url(#cj2)"/>
<line x1="170.1" y1="538.8" x2="172.8" y2="535.3" stroke="#52d03e" stroke-width="1.4" stroke-linecap="round" clip-path="url(#cj2)"/>
<line x1="178.3" y1="557.2" x2="182.5" y2="555.1" stroke="#2a9a92" stroke-width="1.4" stroke-linecap="round" clip-path="url(#cj2)"/>
<line x1="178.7" y1="562.6" x2="177.0" y2="560.7" stroke="#3a4ad8" stroke-width="1.4" stroke-linecap="round" clip-path="url(#cj2)"/>
<line x1="187.5" y1="534.7" x2="186.4" y2="538.0" stroke="#3a4ad8" stroke-width="1.4" stroke-linecap="round" clip-path="url(#cj2)"/>
<line x1="171.6" y1="528.8" x2="170.2" y2="526.1" stroke="#52d03e" stroke-width="1.4" stroke-linecap="round" clip-path="url(#cj2)"/>
<line x1="185.8" y1="549.6" x2="188.9" y2="551.1" stroke="#3cbf2c" stroke-width="1.4" stroke-linecap="round" clip-path="url(#cj2)"/>
<line x1="158.5" y1="539.8" x2="161.1" y2="538.9" stroke="#52d03e" stroke-width="1.4" stroke-linecap="round" clip-path="url(#cj2)"/>
<line x1="187.2" y1="540.2" x2="189.9" y2="542.3" stroke="#2a9a92" stroke-width="1.4" stroke-linecap="round" clip-path="url(#cj2)"/>
<line x1="186.9" y1="539.1" x2="185.5" y2="535.8" stroke="#2a9a92" stroke-width="1.4" stroke-linecap="round" clip-path="url(#cj2)"/>
<line x1="189.4" y1="549.8" x2="192.0" y2="547.7" stroke="#3cbf2c" stroke-width="1.4" stroke-linecap="round" clip-path="url(#cj2)"/>
<line x1="185.4" y1="546.1" x2="183.3" y2="549.2" stroke="#2a9a92" stroke-width="1.4" stroke-linecap="round" clip-path="url(#cj2)"/>
<line x1="173.9" y1="561.3" x2="171.3" y2="562.9" stroke="#e03030" stroke-width="1.4" stroke-linecap="round" clip-path="url(#cj2)"/>
<line x1="170.0" y1="543.1" x2="172.4" y2="545.7" stroke="#52d03e" stroke-width="1.4" stroke-linecap="round" clip-path="url(#cj2)"/>
<line x1="193.7" y1="539.7" x2="191.1" y2="537.8" stroke="#2a3ac8" stroke-width="1.3" stroke-linecap="round" clip-path="url(#cj2)"/>
<line x1="190.1" y1="536.9" x2="189.0" y2="539.8" stroke="#2a3ac8" stroke-width="1.3" stroke-linecap="round" clip-path="url(#cj2)"/>
<line x1="199.1" y1="546.8" x2="201.0" y2="547.7" stroke="#2a3ac8" stroke-width="1.3" stroke-linecap="round" clip-path="url(#cj2)"/>
<line x1="193.5" y1="540.6" x2="193.8" y2="543.5" stroke="#1a8a80" stroke-width="1.3" stroke-linecap="round" clip-path="url(#cj2)"/>
<line x1="191.9" y1="539.3" x2="190.9" y2="536.5" stroke="#1a8a80" stroke-width="1.3" stroke-linecap="round" clip-path="url(#cj2)"/>
<line x1="200.1" y1="543.1" x2="201.5" y2="541.1" stroke="#1a8a80" stroke-width="1.3" stroke-linecap="round" clip-path="url(#cj2)"/>
<line x1="202.0" y1="546.0" x2="204.4" y2="547.6" stroke="#1a8a80" stroke-width="1.3" stroke-linecap="round" clip-path="url(#cj2)"/>
<line x1="194.4" y1="545.2" x2="198.1" y2="543.8" stroke="#1a8a80" stroke-width="1.3" stroke-linecap="round" clip-path="url(#cj2)"/>
<text x="1.0" y="607.8" font-size="16.5" text-anchor="start" fill="#111" font-weight="bold">K</text>
<text x="149.6" y="611.0" font-size="7.2" text-anchor="middle" fill="#111" stroke="#111" stroke-width="0.1">MDA-MB-231</text>
<line x1="7.9" y1="612.6" x2="285.9" y2="612.6" stroke="#777" stroke-width="0.8"/>
<text x="429.5" y="610.9" font-size="7.2" text-anchor="middle" fill="#111" stroke="#111" stroke-width="0.1">MCF-7</text>
<line x1="288.4" y1="612.3" x2="567.1" y2="612.3" stroke="#777" stroke-width="0.8"/>
<text x="40.0" y="626.8" font-size="7.2" text-anchor="middle" fill="#111" stroke="#111" stroke-width="0.1">DAPI</text>
<text x="93.0" y="626.8" font-size="7.2" text-anchor="middle" fill="#111" stroke="#111" stroke-width="0.1">SIX2</text>
<text x="148.0" y="626.8" font-size="7.2" text-anchor="middle" fill="#111" stroke="#111" stroke-width="0.1">TRIM21</text>
<text x="201.9" y="626.8" font-size="7.2" text-anchor="middle" fill="#111" stroke="#111" stroke-width="0.1">Merge</text>
<text x="258.3" y="626.8" font-size="7.2" text-anchor="middle" fill="#111" stroke="#111" stroke-width="0.1">Merge</text>
<text x="317.0" y="626.8" font-size="7.2" text-anchor="middle" fill="#111" stroke="#111" stroke-width="0.1">DAPI</text>
<text x="373.0" y="626.8" font-size="7.2" text-anchor="middle" fill="#111" stroke="#111" stroke-width="0.1">SIX2</text>
<text x="427.2" y="626.8" font-size="7.2" text-anchor="middle" fill="#111" stroke="#111" stroke-width="0.1">TRIM21</text>
<text x="483.4" y="626.8" font-size="7.2" text-anchor="middle" fill="#111" stroke="#111" stroke-width="0.1">Merge</text>
<text x="535.5" y="626.8" font-size="7.2" text-anchor="middle" fill="#111" stroke="#111" stroke-width="0.1">Merge</text>
<clipPath id="k1"><rect x="8.0" y="629.3" width="54.0" height="54.3"/></clipPath>
<g clip-path="url(#k1)">
<rect x="8.0" y="629.3" width="54.0" height="54.3" fill="#06060f" stroke="none" stroke-width="1"/>
<ellipse cx="52.0" cy="639.6" rx="3.8" ry="4.6" fill="#3442c8" opacity="0.95" filter="url(#b1)" transform="rotate(-30 52.0 639.6)"/>
<ellipse cx="52.0" cy="639.6" rx="2.1" ry="2.5" fill="#26309a" opacity="0.55" filter="url(#b1)" transform="rotate(-30 52.0 639.6)"/>
<ellipse cx="41.1" cy="644.6" rx="2.6" ry="3.0" fill="#3442c8" opacity="0.95" filter="url(#b1)"/>
<ellipse cx="41.1" cy="644.6" rx="1.4" ry="1.7" fill="#26309a" opacity="0.55" filter="url(#b1)"/>
<ellipse cx="52.9" cy="648.9" rx="3.0" ry="3.4" fill="#3442c8" opacity="0.95" filter="url(#b1)" transform="rotate(-20 52.9 648.9)"/>
<ellipse cx="52.9" cy="648.9" rx="1.7" ry="1.9" fill="#26309a" opacity="0.55" filter="url(#b1)" transform="rotate(-20 52.9 648.9)"/>
<ellipse cx="47.7" cy="654.9" rx="3.9" ry="3.1" fill="#3442c8" opacity="0.95" filter="url(#b1)" transform="rotate(-20 47.7 654.9)"/>
<ellipse cx="47.7" cy="654.9" rx="2.1" ry="1.7" fill="#26309a" opacity="0.55" filter="url(#b1)" transform="rotate(-20 47.7 654.9)"/>
<ellipse cx="21.5" cy="656.0" rx="3.0" ry="4.0" fill="#3442c8" opacity="0.95" filter="url(#b1)" transform="rotate(-30 21.5 656.0)"/>
<ellipse cx="21.5" cy="656.0" rx="1.7" ry="2.2" fill="#26309a" opacity="0.55" filter="url(#b1)" transform="rotate(-30 21.5 656.0)"/>
<ellipse cx="36.8" cy="679.5" rx="3.2" ry="3.6" fill="#3442c8" opacity="0.95" filter="url(#b1)"/>
<ellipse cx="36.8" cy="679.5" rx="1.8" ry="2.0" fill="#26309a" opacity="0.55" filter="url(#b1)"/>
<ellipse cx="55.3" cy="629.3" rx="2.4" ry="1.6" fill="#3442c8" opacity="0.95" filter="url(#b1)"/>
<ellipse cx="55.3" cy="629.3" rx="1.3" ry="0.9" fill="#26309a" opacity="0.55" filter="url(#b1)"/>
<clipPath id="k2"><rect x="64.0" y="629.3" width="54.0" height="54.3"/></clipPath>
</g>
<g clip-path="url(#k2)">
<rect x="64.0" y="629.3" width="54.0" height="54.3" fill="#0c0101" stroke="none" stroke-width="1"/>
<ellipse cx="104.0" cy="651.0" rx="11" ry="9" fill="#4a0808" opacity="0.85" filter="url(#b2)"/>
<ellipse cx="94.0" cy="641.0" rx="5" ry="4" fill="#300505" opacity="0.7" filter="url(#b2)"/>
<ellipse cx="109.7" cy="639.1" rx="5.5" ry="4.9" fill="#c42020" opacity="0.95" filter="url(#b1)" transform="rotate(-20 109.7 639.1)"/>
<ellipse cx="109.7" cy="639.1" rx="3.0" ry="2.7" fill="#8a1414" opacity="0.55" filter="url(#b1)" transform="rotate(-20 109.7 639.1)"/>
<ellipse cx="97.7" cy="645.7" rx="3.3" ry="3.8" fill="#c42020" opacity="0.95" filter="url(#b1)"/>
<ellipse cx="97.7" cy="645.7" rx="1.8" ry="2.1" fill="#8a1414" opacity="0.55" filter="url(#b1)"/>
<ellipse cx="108.6" cy="648.9" rx="3.3" ry="3.0" fill="#c42020" opacity="0.95" filter="url(#b1)"/>
<ellipse cx="108.6" cy="648.9" rx="1.8" ry="1.7" fill="#8a1414" opacity="0.55" filter="url(#b1)"/>
<ellipse cx="105.9" cy="655.5" rx="5.5" ry="4.4" fill="#c42020" opacity="0.95" filter="url(#b1)" transform="rotate(-10 105.9 655.5)"/>
<ellipse cx="105.9" cy="655.5" rx="3.0" ry="2.4" fill="#8a1414" opacity="0.55" filter="url(#b1)" transform="rotate(-10 105.9 655.5)"/>
<ellipse cx="75.8" cy="655.3" rx="5.0" ry="4.6" fill="#c42020" opacity="0.95" filter="url(#b1)" transform="rotate(-20 75.8 655.3)"/>
<ellipse cx="75.8" cy="655.3" rx="2.8" ry="2.5" fill="#8a1414" opacity="0.55" filter="url(#b1)" transform="rotate(-20 75.8 655.3)"/>
<ellipse cx="94.4" cy="679.5" rx="4.5" ry="4.0" fill="#c42020" opacity="0.95" filter="url(#b1)"/>
<ellipse cx="94.4" cy="679.5" rx="2.5" ry="2.2" fill="#8a1414" opacity="0.55" filter="url(#b1)"/>
<ellipse cx="110.8" cy="629.6" rx="2.6" ry="1.8" fill="#c42020" opacity="0.95" filter="url(#b1)"/>
<ellipse cx="110.8" cy="629.6" rx="1.4" ry="1.0" fill="#8a1414" opacity="0.55" filter="url(#b1)"/>
<clipPath id="k3"><rect x="120.0" y="629.3" width="54.0" height="54.3"/></clipPath>
</g>
<g clip-path="url(#k3)">
<rect x="120.0" y="629.3" width="54.0" height="54.3" fill="#0a170a" stroke="none" stroke-width="1"/>
<ellipse cx="160.0" cy="651.0" rx="11" ry="9" fill="#17461a" opacity="0.85" filter="url(#b2)"/>
<ellipse cx="150.0" cy="641.0" rx="5" ry="4" fill="#123a14" opacity="0.7" filter="url(#b2)"/>
<ellipse cx="165.7" cy="639.1" rx="5.5" ry="4.9" fill="#36b03c" opacity="0.95" filter="url(#b1)" transform="rotate(-20 165.7 639.1)"/>
<ellipse cx="165.7" cy="639.1" rx="3.0" ry="2.7" fill="#23802a" opacity="0.55" filter="url(#b1)" transform="rotate(-20 165.7 639.1)"/>
<ellipse cx="153.7" cy="645.7" rx="3.3" ry="3.8" fill="#36b03c" opacity="0.95" filter="url(#b1)"/>
<ellipse cx="153.7" cy="645.7" rx="1.8" ry="2.1" fill="#23802a" opacity="0.55" filter="url(#b1)"/>
<ellipse cx="164.6" cy="648.9" rx="3.3" ry="3.0" fill="#36b03c" opacity="0.95" filter="url(#b1)"/>
<ellipse cx="164.6" cy="648.9" rx="1.8" ry="1.7" fill="#23802a" opacity="0.55" filter="url(#b1)"/>
<ellipse cx="161.9" cy="655.5" rx="5.5" ry="4.4" fill="#36b03c" opacity="0.95" filter="url(#b1)" transform="rotate(-10 161.9 655.5)"/>
<ellipse cx="161.9" cy="655.5" rx="3.0" ry="2.4" fill="#23802a" opacity="0.55" filter="url(#b1)" transform="rotate(-10 161.9 655.5)"/>
<ellipse cx="131.8" cy="655.3" rx="5.0" ry="4.6" fill="#36b03c" opacity="0.95" filter="url(#b1)" transform="rotate(-20 131.8 655.3)"/>
<ellipse cx="131.8" cy="655.3" rx="2.8" ry="2.5" fill="#23802a" opacity="0.55" filter="url(#b1)" transform="rotate(-20 131.8 655.3)"/>
<ellipse cx="150.4" cy="679.5" rx="4.5" ry="4.0" fill="#36b03c" opacity="0.95" filter="url(#b1)"/>
<ellipse cx="150.4" cy="679.5" rx="2.5" ry="2.2" fill="#23802a" opacity="0.55" filter="url(#b1)"/>
<ellipse cx="166.8" cy="629.6" rx="2.6" ry="1.8" fill="#36b03c" opacity="0.95" filter="url(#b1)"/>
<ellipse cx="166.8" cy="629.6" rx="1.4" ry="1.0" fill="#23802a" opacity="0.55" filter="url(#b1)"/>
<clipPath id="k4"><rect x="176.0" y="629.3" width="54.0" height="54.3"/></clipPath>
</g>
<g clip-path="url(#k4)">
<rect x="176.0" y="629.3" width="54.0" height="54.3" fill="#0a0a05" stroke="none" stroke-width="1"/>
<ellipse cx="216.0" cy="651.0" rx="11" ry="9.5" fill="#4a4212" opacity="0.9" filter="url(#b2)"/>
<ellipse cx="221.0" cy="639.0" rx="6.5" ry="6" fill="#5a5016" opacity="0.9" filter="url(#b2)"/>
<ellipse cx="188.0" cy="655.5" rx="6.5" ry="6.5" fill="#6a5e1a" opacity="0.9" filter="url(#b2)"/>
<ellipse cx="206.0" cy="679.5" rx="5.5" ry="5" fill="#5a4e16" opacity="0.9" filter="url(#b2)"/>
<ellipse cx="221.7" cy="639.1" rx="6.7" ry="6.1000000000000005" fill="#8a7a22" opacity="0.9" filter="url(#b1)" transform="rotate(-20 221.7 639.1)"/>
<ellipse cx="209.7" cy="645.7" rx="4.5" ry="5.0" fill="#8a7a22" opacity="0.9" filter="url(#b1)"/>
<ellipse cx="220.6" cy="648.9" rx="4.5" ry="4.2" fill="#8a7a22" opacity="0.9" filter="url(#b1)"/>
<ellipse cx="217.9" cy="655.5" rx="6.7" ry="5.6000000000000005" fill="#8a7a22" opacity="0.9" filter="url(#b1)" transform="rotate(-10 217.9 655.5)"/>
<ellipse cx="187.8" cy="655.3" rx="6.2" ry="5.8" fill="#8a7a22" opacity="0.9" filter="url(#b1)" transform="rotate(-20 187.8 655.3)"/>
<ellipse cx="206.4" cy="679.5" rx="5.7" ry="5.2" fill="#8a7a22" opacity="0.9" filter="url(#b1)"/>
<ellipse cx="222.8" cy="629.6" rx="3.8" ry="3.0" fill="#8a7a22" opacity="0.9" filter="url(#b1)"/>
<ellipse cx="220.0" cy="639.6" rx="3.8" ry="4.6" fill="#9282d0" opacity="0.95" filter="url(#b1)" transform="rotate(-30 220.0 639.6)"/>
<ellipse cx="209.1" cy="644.6" rx="2.6" ry="3.0" fill="#9282d0" opacity="0.95" filter="url(#b1)"/>
<ellipse cx="220.9" cy="648.9" rx="3.0" ry="3.4" fill="#9282d0" opacity="0.95" filter="url(#b1)" transform="rotate(-20 220.9 648.9)"/>
<ellipse cx="215.7" cy="654.9" rx="3.9" ry="3.1" fill="#9282d0" opacity="0.95" filter="url(#b1)" transform="rotate(-20 215.7 654.9)"/>
<ellipse cx="189.5" cy="656.0" rx="3.0" ry="4.0" fill="#9282d0" opacity="0.95" filter="url(#b1)" transform="rotate(-30 189.5 656.0)"/>
<ellipse cx="204.8" cy="679.5" rx="3.2" ry="3.6" fill="#9282d0" opacity="0.95" filter="url(#b1)"/>
<ellipse cx="223.3" cy="629.3" rx="2.4" ry="1.6" fill="#9282d0" opacity="0.95" filter="url(#b1)"/>
<rect x="182.1" y="649.3" width="19.5" height="15.5" fill="none" stroke="#b82418" stroke-width="0.9"/>
<clipPath id="k5"><rect x="232.1" y="629.3" width="54.0" height="54.3"/></clipPath>
</g>
<g clip-path="url(#k5)">
<rect x="232.1" y="629.3" width="54.0" height="54.3" fill="#050400" stroke="none" stroke-width="1"/>
<ellipse cx="256.1" cy="657" rx="25" ry="26" fill="#7a6418" opacity="0.95" filter="url(#b3)" transform="rotate(-25 256.1 657)"/>
<ellipse cx="252.1" cy="659" rx="13" ry="15" fill="#3a2c08" opacity="0.6" filter="url(#b3)"/>
<ellipse cx="271.1" cy="656" rx="11.5" ry="18" fill="#6454d0" filter="url(#b1)" transform="rotate(-28 271.1 656)"/>
<ellipse cx="263.1" cy="658" rx="5" ry="12" fill="#3a2c08" opacity="0.9" filter="url(#b1)" transform="rotate(-28 263.1 658)"/>
<line x1="247.6" y1="640.5" x2="250.1" y2="643" stroke="#e03020" stroke-width="0.9"/>
<line x1="243.6" y1="648.5" x2="246.1" y2="651" stroke="#e03020" stroke-width="0.9"/>
<line x1="251.6" y1="655.5" x2="254.1" y2="658" stroke="#e03020" stroke-width="0.9"/>
<line x1="256.6" y1="648.5" x2="259.1" y2="651" stroke="#e03020" stroke-width="0.9"/>
<line x1="255.60000000000002" y1="664.5" x2="258.1" y2="667" stroke="#e03020" stroke-width="0.9"/>
<line x1="249.6" y1="660.5" x2="252.1" y2="663" stroke="#e03020" stroke-width="0.9"/>
<line x1="261.8" y1="682.2" x2="285.9" y2="682.2" stroke="#d82020" stroke-width="0.8"/>
<text x="273.6" y="680.9" font-size="5.5" text-anchor="middle" fill="#d82828" stroke="#d82828" stroke-width="0.1">20 μm</text>
</g>
<line x1="201.6" y1="649.3" x2="232.1" y2="629.3" stroke="#c42a1e" stroke-width="0.8"/>
<line x1="201.6" y1="664.8" x2="230.0" y2="683.6" stroke="#c42a1e" stroke-width="0.8"/>
<clipPath id="m1"><rect x="288.2" y="629.3" width="54.0" height="54.3"/></clipPath>
<g clip-path="url(#m1)">
<rect x="288.2" y="629.3" width="54.0" height="54.3" fill="#06060f" stroke="none" stroke-width="1"/>
<ellipse cx="322.8" cy="640.8" rx="3.8" ry="4.6" fill="#3442c8" opacity="0.95" filter="url(#b1)" transform="rotate(-10 322.8 640.8)"/>
<ellipse cx="322.8" cy="640.8" rx="2.1" ry="2.5" fill="#26309a" opacity="0.55" filter="url(#b1)" transform="rotate(-10 322.8 640.8)"/>
<ellipse cx="313.8" cy="641.5" rx="3.3" ry="4.2" fill="#3442c8" opacity="0.95" filter="url(#b1)"/>
<ellipse cx="313.8" cy="641.5" rx="1.8" ry="2.3" fill="#26309a" opacity="0.55" filter="url(#b1)"/>
<ellipse cx="307.0" cy="662.0" rx="3.6" ry="4.4" fill="#3442c8" opacity="0.95" filter="url(#b1)"/>
<ellipse cx="307.0" cy="662.0" rx="2.0" ry="2.4" fill="#26309a" opacity="0.55" filter="url(#b1)"/>
<clipPath id="m2"><rect x="344.2" y="629.3" width="54.0" height="54.3"/></clipPath>
</g>
<g clip-path="url(#m2)">
<rect x="344.2" y="629.3" width="54.0" height="54.3" fill="#0a0101" stroke="none" stroke-width="1"/>
<ellipse cx="364.2" cy="665.0" rx="4" ry="9" fill="#400606" opacity="0.8" filter="url(#b2)"/>
<ellipse cx="379.3" cy="641.3" rx="4" ry="5.3" fill="#c81e1e" opacity="0.95" filter="url(#b1)" transform="rotate(-10 379.3 641.3)"/>
<ellipse cx="379.3" cy="641.3" rx="2.2" ry="2.9" fill="#941616" opacity="0.55" filter="url(#b1)" transform="rotate(-10 379.3 641.3)"/>
<ellipse cx="370.6" cy="640.7" rx="3.8" ry="5.3" fill="#c81e1e" opacity="0.95" filter="url(#b1)" transform="rotate(10 370.6 640.7)"/>
<ellipse cx="370.6" cy="640.7" rx="2.1" ry="2.9" fill="#941616" opacity="0.55" filter="url(#b1)" transform="rotate(10 370.6 640.7)"/>
<ellipse cx="363.5" cy="662.0" rx="4.2" ry="6.8" fill="#c81e1e" opacity="0.95" filter="url(#b1)" transform="rotate(15 363.5 662.0)"/>
<ellipse cx="363.5" cy="662.0" rx="2.3" ry="3.7" fill="#941616" opacity="0.55" filter="url(#b1)" transform="rotate(15 363.5 662.0)"/>
<clipPath id="m3"><rect x="400.1" y="629.3" width="54.0" height="54.3"/></clipPath>
</g>
<g clip-path="url(#m3)">
<rect x="400.1" y="629.3" width="54.0" height="54.3" fill="#0a170a" stroke="none" stroke-width="1"/>
<ellipse cx="420.1" cy="665.0" rx="4" ry="9" fill="#124a16" opacity="0.8" filter="url(#b2)"/>
<ellipse cx="434.7" cy="641.3" rx="4" ry="5.3" fill="#3cc444" opacity="0.95" filter="url(#b1)" transform="rotate(-10 434.7 641.3)"/>
<ellipse cx="434.7" cy="641.3" rx="2.2" ry="2.9" fill="#2a9a30" opacity="0.55" filter="url(#b1)" transform="rotate(-10 434.7 641.3)"/>
<ellipse cx="426.0" cy="640.7" rx="3.8" ry="5.3" fill="#3cc444" opacity="0.95" filter="url(#b1)" transform="rotate(10 426.0 640.7)"/>
<ellipse cx="426.0" cy="640.7" rx="2.1" ry="2.9" fill="#2a9a30" opacity="0.55" filter="url(#b1)" transform="rotate(10 426.0 640.7)"/>
<ellipse cx="418.9" cy="662.0" rx="4.2" ry="6.8" fill="#3cc444" opacity="0.95" filter="url(#b1)" transform="rotate(15 418.9 662.0)"/>
<ellipse cx="418.9" cy="662.0" rx="2.3" ry="3.7" fill="#2a9a30" opacity="0.55" filter="url(#b1)" transform="rotate(15 418.9 662.0)"/>
<clipPath id="m4"><rect x="456.1" y="629.3" width="54.0" height="54.3"/></clipPath>
</g>
<g clip-path="url(#m4)">
<rect x="456.1" y="629.3" width="54.0" height="54.3" fill="#0a0a07" stroke="none" stroke-width="1"/>
<ellipse cx="475.1" cy="662.0" rx="6" ry="9.5" fill="#7a6c24" opacity="0.9" filter="url(#b2)"/>
<ellipse cx="486.1" cy="641.0" rx="9" ry="6.5" fill="#6a5e20" opacity="0.9" filter="url(#b2)"/>
<ellipse cx="491.2" cy="641.3" rx="4" ry="5.3" fill="#c8b060" opacity="0.95" filter="url(#b1)" transform="rotate(-10 491.2 641.3)"/>
<ellipse cx="491.2" cy="641.3" rx="2.2" ry="2.9" fill="#c8a8c8" opacity="0.55" filter="url(#b1)" transform="rotate(-10 491.2 641.3)"/>
<ellipse cx="482.5" cy="640.7" rx="3.8" ry="5.3" fill="#c8b060" opacity="0.95" filter="url(#b1)" transform="rotate(10 482.5 640.7)"/>
<ellipse cx="482.5" cy="640.7" rx="2.1" ry="2.9" fill="#c8a8c8" opacity="0.55" filter="url(#b1)" transform="rotate(10 482.5 640.7)"/>
<ellipse cx="475.4" cy="662.0" rx="4.2" ry="6.8" fill="#c8b060" opacity="0.95" filter="url(#b1)" transform="rotate(15 475.4 662.0)"/>
<ellipse cx="475.4" cy="662.0" rx="2.3" ry="3.7" fill="#c8a8c8" opacity="0.55" filter="url(#b1)" transform="rotate(15 475.4 662.0)"/>
<rect x="467.3" y="651.6" width="17.1" height="21.1" fill="none" stroke="#b82418" stroke-width="0.9"/>
<clipPath id="m5"><rect x="512.6" y="629.3" width="54.0" height="54.3"/></clipPath>
</g>
<g clip-path="url(#m5)">
<rect x="512.6" y="629.3" width="54.0" height="54.3" fill="#050400" stroke="none" stroke-width="1"/>
<ellipse cx="537.6" cy="656" rx="15.5" ry="30" fill="#6e5418" opacity="0.95" filter="url(#b3)" transform="rotate(-8 537.6 656)"/>
<ellipse cx="537.1" cy="654.5" rx="14.5" ry="14" fill="#8a6c20" opacity="0.9" filter="url(#b2)"/>
<ellipse cx="537.1" cy="654.5" rx="11.8" ry="11.3" fill="#a68cc0" filter="url(#b1)"/>
<ellipse cx="537.1" cy="654.5" rx="9.5" ry="9" fill="#8a70b8" opacity="0.7" filter="url(#b1)"/>
<ellipse cx="533.6" cy="651" rx="4" ry="3" fill="#6a50b0" opacity="0.7" filter="url(#b1)"/>
<ellipse cx="539.6" cy="659" rx="3.5" ry="4.5" fill="#4a3070" opacity="0.8" filter="url(#b1)"/>
<line x1="534.1" y1="637.5" x2="531.6" y2="640" stroke="#e03020" stroke-width="0.9"/>
<line x1="541.1" y1="636.5" x2="538.6" y2="639" stroke="#e03020" stroke-width="0.9"/>
<line x1="545.1" y1="640.5" x2="542.6" y2="643" stroke="#e03020" stroke-width="0.9"/>
<line x1="533.1" y1="667.5" x2="530.6" y2="670" stroke="#e03020" stroke-width="0.9"/>
<line x1="537.1" y1="670.5" x2="534.6" y2="673" stroke="#e03020" stroke-width="0.9"/>
<line x1="543.1" y1="668.5" x2="540.6" y2="671" stroke="#e03020" stroke-width="0.9"/>
<line x1="541.8" y1="682.5" x2="566.6" y2="682.5" stroke="#d82020" stroke-width="0.8"/>
<text x="553.4" y="680.3" font-size="5.5" text-anchor="middle" fill="#d82828" stroke="#d82828" stroke-width="0.1">20 μm</text>
</g>
<line x1="484.4" y1="651.6" x2="512.6" y2="629.3" stroke="#c42a1e" stroke-width="0.8"/>
<line x1="484.4" y1="672.7" x2="512.6" y2="683.6" stroke="#c42a1e" stroke-width="0.8"/>
</svg>
</body></html>
